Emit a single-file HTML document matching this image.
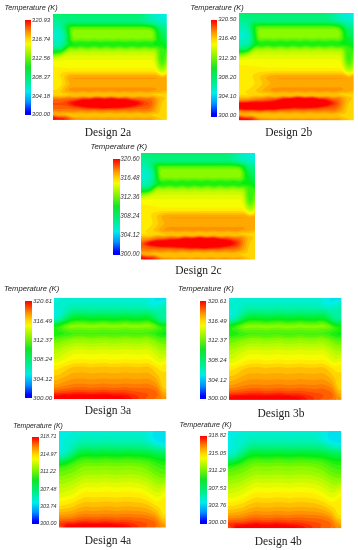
<!DOCTYPE html><html><head><meta charset="utf-8"><title>Temperature contours</title><style>
html,body{margin:0;padding:0;background:#fff;}
body{width:358px;height:550px;position:relative;overflow:hidden;font-family:"Liberation Sans",sans-serif;}
.t{position:absolute;font-style:italic;color:#222;white-space:nowrap;line-height:1;letter-spacing:0}
.l{position:absolute;font-style:italic;color:#333;white-space:nowrap;line-height:1}
.c{position:absolute;font-family:"Liberation Serif",serif;color:#222;white-space:nowrap;line-height:1;font-size:11.5px}
.cb{position:absolute;background:linear-gradient(to bottom,#ff0000 0%,#ff2000 3%,#ff8800 11.5%,#ffd800 20%,#f4fc00 25.5%,#8cf400 37%,#14e428 49.5%,#00ee80 62.5%,#00ecec 75.5%,#0090ff 86.5%,#0000ff 97%,#0000ff 100%)}
svg{position:absolute;display:block}
</style></head><body>
<svg width="0" height="0" style="left:0;top:0"><defs><filter id="sb" x="-5%" y="-5%" width="110%" height="110%"><feGaussianBlur stdDeviation="0.55"/></filter></defs></svg>
<svg style="left:51.4px;top:12.2px" width="117.8" height="109.9" viewBox="-2 -2 117.8 109.9"><g filter="url(#sb)"><g mask="url(#c2a)"><rect x="-2" y="-2" width="117.8" height="109.9" fill="#00bff5"/>
<path fill="#00e1f0" d="M-2,-2 115.8,-2 115.8,107.9 -2,107.9 -2,-2Z"/>
<path fill="#00eee5" d="M-2,-2 115.8,-2 115.8,107.9 -2,107.9 -2,-2Z"/>
<path fill="#00efcf" d="M-2,-2 106.8,-2 106.9,0.5 107.3,1.5 108.3,2.5 110,3.5 111.8,4 115.8,4.2 115.8,107.9 -2,107.9 -2,-2Z"/>
<path fill="#00f0b9" d="M-2,-2 101,-2 101.1,1 101.3,2.5 102.3,4.3 103.7,5.5 105.8,6.5 109.3,7.6 112.3,8 115.8,8.1 115.8,107.9 -2,107.9 -2,25.2 0,25.2 2,26.1 3,26.3 4.5,26.1 5.4,25.6 6,24.8 6.6,22.6 6.5,21.6 6,19.9 5.5,19 4.4,18.1 3.5,17.8 2.5,17.9 0,19.3 -2,19.3 -2,-2Z"/>
<path fill="#00f1a3" d="M-2,-2 97.4,-2 97.4,4 97.5,5 98.3,6 100.1,7 108.8,9.8 111.8,10.3 115.8,10.4 115.8,107.9 -2,107.9 -2,31.4 4.5,31.1 6,30.8 7.4,30.1 8.3,29.1 9.1,27.6 9.8,25.1 10,22.6 9.7,20.1 9,17.6 7.5,15.2 6,13.8 4.5,12.9 3,12.6 0,12.9 -2,12.9 -2,-2Z"/>
<path fill="#00f18d" d="M-2,-2 94.2,-2 94.1,0.5 92.9,5 93.3,6 93.9,6.5 96.2,7.5 103.8,9.7 109.3,12 111.8,12.4 115.8,12.5 115.8,107.9 -2,107.9 -2,33.2 1,33.2 5.5,32.7 7.5,32.2 8.5,31.6 9.9,30.1 10.5,28.6 11.1,25.6 11.3,22.6 11,19.6 10,16.4 8.5,13.7 5.5,9.4 4.5,8.5 3,8.1 2,8.2 0,8.7 -2,8.7 -2,-2Z"/>
<path fill="#00f278" d="M-2,-2 90.7,-2 90.7,0 89.6,2.5 88.2,3.9 85.5,5.5 85.3,6 88.6,7 99.3,9.4 102.3,10.2 104.8,11.3 108.8,13.8 110.3,14.4 112.3,14.6 115.8,14.7 115.8,107.9 -2,107.9 -2,34.4 1.5,34.3 7,33.5 9,32.6 10.2,31.6 11,30.6 11.5,29.6 11.9,28.1 12.3,24.1 12.3,21.6 11.6,17.6 9.6,12.5 9.4,11.5 9.4,10.5 9.7,9.5 10.5,8.5 11.5,7.7 14.2,6 12.8,5.5 6,4.2 3,4 -2,4.1 -2,-2Z"/>
<path fill="#00f164" d="M-2,-2 85.6,-2 85.6,0 84.2,1 81.7,1.4 13,1.4 2.5,0.4 -2,0.3 -2,-2ZM15.4,8.5 21.1,8.3 83.7,8.3 88.7,8.5 97.3,9.7 101.3,10.7 103.3,11.5 105,12.5 106.3,13.6 108.8,16.1 110.3,17.2 112.3,17.7 115.8,17.8 115.8,107.9 -2,107.9 -2,35.4 2.5,35.1 6,34.7 7.5,34.3 9,33.6 10,32.9 11,32 12.1,30.6 12.6,29.6 13,28.1 13.1,22.1 12.7,18.6 11.2,13.6 11,11.5 11.4,10.5 12.5,9.5 14,8.8 15.4,8.5Z"/>
<path fill="#00f050" d="M15.7,9.5 20.6,9.2 88.2,9.3 94.2,9.9 99.8,10.9 102.8,12.1 104.2,13 105.4,14.1 106.9,16.1 109.3,20 111.3,22.4 113.8,24.5 115.8,24.5 115.8,107.9 -2,107.9 -2,36.2 2,36 5.5,35.6 7.5,35.1 9,34.4 10.5,33.4 12,32.1 13.2,30.6 13.7,29.6 13.9,28.6 13.8,22.1 13.4,18.6 12.3,14.1 12.2,12.5 12.4,11.5 13.2,10.5 14.5,9.8 15.7,9.5Z"/>
<path fill="#00ef3b" d="M17.8,10 88.7,10 93.7,10.4 98.8,11.3 101.8,12.4 104.2,14.1 106,16.6 107.9,21.1 109.3,23.1 113.8,27.5 115.8,27.5 115.8,107.9 -2,107.9 -2,36.9 0.5,36.9 4,36.5 6.2,36.1 8,35.6 9.5,34.9 11,33.8 12.8,32.1 14.2,30.6 14.7,29.6 14.9,28.1 14.6,25.6 14.3,20.6 13.9,17.6 13.3,14.6 13.2,13 13.5,11.9 14.5,10.9 16,10.3 17.8,10Z"/>
<path fill="#00ef27" d="M16.3,11 18,10.7 21.1,10.6 89.2,10.7 94.2,11.1 98.8,11.9 101.3,12.8 103.3,14.3 104.3,15.6 105.2,17.1 106.9,22.1 108.3,24.6 113.3,30 113.8,30.4 115.8,30.4 115.8,107.9 -2,107.9 -2,37.5 1,37.5 4.5,37.1 6.5,36.7 8.3,36.1 10,35.2 11.5,34.1 14.3,31.6 15.6,30.1 15.8,29.6 16,28.6 15.3,25.6 15,21.1 14,14.1 14.2,13 14.7,12 15.2,11.5 16.3,11Z"/>
<path fill="#02ee14" d="M17.3,11.5 19.1,11.3 21.6,11.2 89.2,11.3 93.7,11.6 98.3,12.3 100.8,13.3 102.5,14.6 103.7,16.1 104.4,17.6 105.1,19.6 106,23.6 107,26.6 107.7,27.6 113.3,32.2 113.8,32.4 115.8,32.4 115.8,107.9 -2,107.9 -2,38.2 1,38.1 4.5,37.7 7,37.2 8.5,36.7 11,35.1 17,30.1 17.2,29.1 16,25.6 14.9,14.6 15,13.6 15.5,12.5 16.1,12 17.3,11.5Z"/>
<path fill="#1df010" d="M18.5,12 22.1,11.9 89.7,11.9 93.7,12.2 97.8,12.8 99.9,13.6 101.8,14.8 103,16.6 104,19.1 104.7,24.1 104.7,25.6 104.3,26.6 103.8,27.1 99.7,30.1 99.8,30.6 102.8,31 108.3,31.3 109.8,31.8 113.3,34 113.8,34.2 115.8,34.2 115.8,107.9 -2,107.9 -2,38.8 0.5,38.7 3.5,38.4 6,38.1 8,37.5 10.5,36.2 15.5,32.3 17.5,31.3 20.3,30.6 20.4,30.1 18,28 16.9,26.1 16.6,24.6 15.7,15.6 15.8,14.1 16.3,13 17,12.5 18.5,12Z"/>
<path fill="#38f30c" d="M25.8,12.5 88.7,12.6 92.2,12.7 96.3,13.2 98.2,13.6 99.5,14.1 100.8,14.9 101.8,16.1 102.6,17.6 103.2,19.6 103.4,21.6 103.4,24.6 102.9,26.1 101.9,27.1 100.3,28.1 98.3,28.5 91.7,27.9 85.2,28.6 79.2,27.9 72.7,28.6 66.7,27.9 60.2,28.6 53.6,27.9 47.6,28.6 41.1,27.9 35.1,28.6 28.6,27.9 23.1,28.5 20.6,28.3 19.6,27.9 18.5,27.1 17.5,25.5 16.8,20.1 16.5,15.6 16.6,14.6 17.1,13.6 18.5,12.8 20.6,12.6 25.8,12.5ZM25.1,32.1 27.1,31.7 29.1,31.7 33.6,32.4 35.1,32.5 41.1,31.6 47.6,32.5 53.6,31.6 60.2,32.5 65.2,31.7 66.7,31.7 72.7,32.5 79.2,31.7 85.2,32.5 86.7,32.4 90.2,31.7 92.2,31.7 97.3,32.5 101.8,32.3 104.3,32.5 108.8,33.9 112.8,35.9 113.8,36.1 115.8,36.1 115.8,107.9 -2,107.9 -2,39.4 0.5,39.3 3.5,39.1 6,38.6 8,38.1 10.5,36.8 15,33.2 17,32.4 18.5,32.2 22.6,32.5 25.1,32.1Z"/>
<path fill="#53f508" d="M19.2,13.6 22.6,13.3 88.2,13.3 94.7,13.6 97.3,14 98.8,14.5 99.8,15.2 100.8,16.2 101.8,18 102.3,19.6 102.4,21.6 102.3,24.1 101.7,25.6 100.8,26.6 99.3,27.3 97.8,27.5 91.7,26.9 85.2,27.5 79.2,26.9 72.7,27.5 66.2,26.9 60.2,27.5 53.6,26.9 47.6,27.5 41.1,26.9 35.1,27.5 28.6,26.9 23.1,27.5 21.6,27.5 20.1,27 19.1,26.3 18.5,25.6 18,23.9 17.5,20.1 17.4,15.6 17.5,14.9 18,14.1 19.2,13.6ZM27.3,32.6 29.6,32.6 34.6,33.4 41.1,32.6 47.1,33.4 48.6,33.3 53.6,32.6 60.2,33.4 66.2,32.6 72.7,33.4 79.2,32.6 85.2,33.4 91.7,32.6 97.3,33.4 102.8,33.2 104.1,33.6 105,34.1 106.1,35.1 106.7,36.1 107.2,38.1 107.3,42.2 107.8,45.2 108.3,46.5 108.8,47.2 109.3,47.3 109.8,47.1 110.2,46.7 110.7,45.7 112,40.7 112.5,39.6 113.8,38.7 115.8,38.7 115.8,107.9 -2,107.9 -2,40 3,39.7 6,39.2 8,38.7 10.5,37.4 14.5,34.2 16.5,33.2 18,33 22.6,33.4 27.3,32.6Z"/>
<path fill="#6ef704" d="M19.8,14.6 21.6,14.3 27.6,14.3 89.2,14.3 94.2,14.5 97.6,15.1 99.3,16.1 100.3,17.3 100.9,18.6 101.3,20.1 101.3,21.6 100.9,24.1 100.4,25.1 99.3,26.1 97.8,26.4 91.7,25.8 85.2,26.4 79.2,25.8 72.7,26.4 66.2,25.8 60.2,26.4 53.6,25.8 47.6,26.4 41.1,25.8 35.1,26.4 28.6,25.8 22.1,26.4 20.6,26 19.6,25.1 19.1,23.8 18.5,21.6 18.3,19.1 18.5,16.1 19,15.1 19.8,14.6ZM26,33.6 29.1,33.4 33.1,34 35.1,34.2 41.1,33.3 47.6,34.2 53.6,33.3 60.2,34.2 66.7,33.3 72.7,34.2 79.2,33.3 85.2,34.2 91.7,33.3 97.3,34.1 102.3,34.1 103.8,34.7 104.6,35.6 105.1,36.6 105.6,38.6 106.1,44.2 106.8,47.4 107.8,49.5 108.5,50.2 109.3,50.5 110.3,50 111.2,48.7 113,44.2 113.8,42.6 115.8,42.6 115.8,107.9 -2,107.9 -2,40.6 3,40.4 6,39.9 8,39.3 10.5,38.1 14.5,35 16.5,34 18,33.8 22.6,34.2 26,33.6Z"/>
<path fill="#89fa00" d="M21.7,16.1 94.7,16.1 97.3,16.5 98.8,17.5 99.8,19.2 100,21.1 99.8,22.1 99,23.6 98.3,24.2 97.3,24.5 91.7,24.1 85.2,24.6 78.7,24.1 72.7,24.6 66.2,24.1 60.2,24.6 53.6,24.1 47.1,24.6 41.1,24.1 34.6,24.6 28.6,24.1 22.6,24.5 21.6,24.2 20.6,23.3 19.7,21.6 19.4,20.1 19.6,18.3 20.1,17.1 20.6,16.5 21.7,16.1ZM17,34.6 18.5,34.6 22.6,35 28.6,34.2 33.6,34.9 35.1,35 41.1,34.2 47.6,35 53.6,34.2 60.2,35 66.7,34.2 72.7,35 79.2,34.2 85.2,35 91.7,34.2 97.3,34.9 101.3,34.9 102.8,35.4 103.8,36.6 104.5,38.6 105.3,45.2 105.9,48.2 106.8,50.4 107.8,51.9 108.8,52.5 109.3,52.6 110.3,52.2 111.3,51.2 111.8,50.3 113.8,46.2 115.8,46.2 115.8,107.9 -2,107.9 -2,41.3 0.5,41.3 3.5,41 8,39.9 11,38.4 15.5,35.1 17,34.6Z"/>
<path fill="#9ffa00" d="M16.8,35.6 18,35.5 22.6,35.9 28.6,35.2 35.1,35.9 41.1,35.2 47.6,35.9 53.6,35.2 60.2,35.9 66.7,35.2 72.7,35.9 79.2,35.2 85.2,35.9 91.7,35.2 97.3,35.9 100.8,35.9 101.8,36.2 102.8,37.2 103.6,39.1 104.6,46.2 105.4,49.7 106.5,52.2 107.7,53.7 108.8,54.3 109.8,54.3 110.3,54 111.8,52.6 113.8,49.1 115.8,49.1 115.8,107.9 -2,107.9 -2,42.1 2.5,41.9 5,41.5 7.5,40.8 10.5,39.5 15,36.4 16.8,35.6Z"/>
<path fill="#b6fb00" d="M26.6,36.6 29.1,36.5 35.1,37.1 41.6,36.5 47.6,37.1 54.1,36.5 60.2,37.1 66.7,36.5 72.7,37.1 79.2,36.5 85.2,37.1 91.7,36.5 96.8,37.1 100.3,37.2 101.4,37.6 102.2,38.6 102.6,39.6 103.9,47.2 104.8,50.7 105.9,53.2 107.3,55 108.8,55.8 110.3,55.6 111.8,54.4 113.8,51.7 115.8,51.7 115.8,107.9 -2,107.9 -2,42.9 2.5,42.7 7.5,41.6 10,40.6 14.5,37.8 16.5,36.9 18,36.8 22.6,37.1 26.6,36.6Z"/>
<path fill="#ccfb00" d="M15.7,38.6 17.5,38.4 22.6,38.7 28.6,38.2 35.1,38.7 41.1,38.2 47.6,38.7 53.6,38.2 60.2,38.7 66.2,38.2 72.7,38.7 79.2,38.2 85.2,38.7 91.7,38.2 99.3,38.8 100.3,39 100.8,39.3 101.3,39.9 101.8,41.1 103.4,48.7 104.3,51.7 105.3,54.2 106.8,56.1 108.3,56.9 109.8,57 110.8,56.7 111.6,56.2 113.8,53.9 115.8,53.9 115.8,107.9 -2,107.9 -2,43.9 2,43.7 7,42.8 10.5,41.4 14.5,39.1 15.7,38.6Z"/>
<path fill="#e2fb00" d="M13.9,41.7 16.5,41.2 22.1,41.4 28.6,41.2 34.6,41.4 41.1,41.2 47.6,41.4 53.6,41.2 60.2,41.4 66.7,41.2 72.7,41.4 79.2,41.2 85.2,41.4 91.7,41.2 98.3,41.5 99.8,41.9 100.8,43.2 101.3,44.4 102.9,50.7 104,53.7 105.1,55.7 106.3,57 107.8,57.9 108.8,58.2 109.8,58.1 111.3,57.6 113.8,55.8 115.8,55.8 115.8,107.9 -2,107.9 -2,45.1 2,45 6,44.3 9.5,43.3 13.9,41.7Z"/>
<path fill="#f8fc00" d="M9.6,46.2 15.5,46 91.7,46 97.8,46.1 99.3,46.4 100.3,47.5 103.5,55.2 104.7,56.7 106.4,58.2 108.3,59.1 109.8,59.2 111.3,58.7 113.8,57.2 115.8,57.2 115.8,107.9 -2,107.9 -2,47.1 2.5,47 9.6,46.2Z"/>
<path fill="#ffec00" d="M-2,53.2 -2,52.9 2,53 11.5,54 15.5,54.2 98.8,54.2 99.8,54.3 100.8,54.7 105.5,58.7 106.8,59.5 108.3,60.1 109.3,60.2 110.8,59.9 113.8,58.4 115.8,58.4 115.8,107.9 -2,107.9 -2,53.2Z"/>
<path fill="#ffd600" d="M14.5,57.7 19.6,57.6 99.8,57.6 102.3,58 106.8,60.6 108.8,61.1 110.8,60.9 113.8,59.6 115.8,59.6 115.8,107.9 -2,107.9 -2,76.3 0.5,76.3 3,75.6 5.5,74.3 7,73 8.5,70.8 8.9,68.8 8.7,66.8 7.3,62.2 7.2,61.2 7.4,60.2 8.3,59.2 9.5,58.6 11.5,58.1 14.5,57.7Z"/>
<path fill="#ffbf00" d="M16,59.7 20.6,59.5 100.8,59.5 102.8,59.8 107.3,61.8 109.3,62.2 110.8,61.9 113.8,60.8 115.8,60.8 115.8,78.8 113.3,78.9 107.8,79.8 101.3,79.8 97.8,80.3 98.3,80.5 102.8,81 111,83.3 112,83.8 112.2,84.3 112,84.8 109.9,87.3 108.8,89.4 107.8,92.3 106.8,96.9 106.4,97.9 105.8,98.8 104.8,99.5 103.8,99.9 99.8,100.4 98.2,100.9 105.8,103.7 108.8,105.2 109.8,105.9 109.8,107.9 -2,107.9 -2,81.5 8,81.8 11.1,81.3 14.5,80.5 18.1,80.3 10,79.3 8.5,78.7 7.7,77.8 7.8,76.8 11.3,72.3 12.2,70.8 12.6,69.8 12.4,67.8 11.2,63.7 11.5,62.2 12.3,61.2 13,60.7 14.5,60.1 16,59.7ZM20.6,80.8 20.3,80.8 22.5,80.8 20.6,80.8ZM23.1,80.8 22.7,80.8 24.9,80.8 23.1,80.8ZM27.6,80.3 27.3,80.3 32.2,80.3 27.6,80.3ZM70.2,80.3 74.9,80.3 70.2,80.3ZM77.7,80.8 77.3,80.8 79.4,80.8 77.7,80.8ZM80.2,80.8 79.7,80.8 81.9,80.8 80.2,80.8ZM84.2,80.3 84.1,80.3 89.2,80.3 84.2,80.3ZM91.7,80.8 91.4,80.8 96.5,80.8 91.7,80.8Z"/>
<path fill="#ffa900" d="M16.6,61.7 18.5,61.4 21.1,61.3 101.3,61.3 103.8,61.6 107.3,63.1 109.3,63.4 110.8,63.2 113.8,62.1 115.8,62.1 115.8,76.3 112.8,76.4 106.8,77.9 100.8,78.2 93.7,79 86.7,78.3 80.2,79 78.2,78.9 72.2,78.3 65.2,79 58.2,78.3 51.1,79 44.1,78.3 37.1,79 31.1,78.4 29.1,78.3 22.6,79 13,77.8 11.9,77.3 11.6,76.8 11.6,76.3 12.5,74.8 15.6,71.3 16.3,70.3 16.5,69.8 16.4,68.8 14.7,65.2 14.4,63.7 14.5,63.2 15,62.6 16.6,61.7ZM41.8,81.8 44.6,81.6 51.1,82.2 58.7,81.6 65.7,82.3 72.7,81.8 79.7,82.5 86.2,81.9 93.2,82.5 100.3,82.1 102.8,82.6 105.3,83.7 106.2,84.3 106.5,84.8 106.6,85.8 104.3,94.9 103.3,96.9 102.3,97.7 101.3,98.1 93.2,99.7 90.7,99.8 86.2,99.1 84.2,99 78.7,99.8 76.7,99.8 70.2,99 62.7,99.8 57.7,99.1 55.6,99 48.6,99.8 41.6,99 34.6,99.8 27.6,99 20.6,99.8 15,99.2 13,99.2 11.4,99.4 9.6,99.9 9.4,100.4 12,100.6 14,101 18,102.4 21.1,103.1 23.1,103.3 28.1,103.1 34.1,103.8 41.6,103.1 48.6,103.8 55.6,103.1 63.2,103.8 70.2,103.1 77.2,103.8 84.2,103.1 91.2,103.8 97.8,103.3 100.5,103.9 103.4,105.4 104,105.9 104,107.9 -2,107.9 -2,82.5 2,82.5 8,82.8 15.5,81.9 22.1,82.5 24.1,82.4 29.6,81.8 37.1,82.4 41.8,81.8Z"/>
<path fill="#ff9200" d="M20.3,64.2 23.1,64.1 101.3,64.1 103.3,64.2 103.6,64.7 101.3,64.9 22.6,64.9 20.5,64.7 20.3,64.2ZM18.4,73.8 20.1,73.6 29.6,73.4 36.6,73.6 43.6,73.4 51.1,73.6 58.2,73.4 65.2,73.6 72.2,73.4 79.2,73.6 86.2,73.4 93.7,73.6 99.8,73.4 102.3,73.9 103.3,74.5 103.7,75.3 103.4,75.8 102.2,76.3 96.3,77.3 94.2,77.5 86.7,76.8 79.2,77.5 72.2,76.8 65.2,77.5 58.2,76.8 51.1,77.5 44.1,76.8 36.6,77.5 29.6,76.8 22.6,77.5 18,76.9 16,76.3 15.7,75.8 16,75.1 17,74.3 18.4,73.8ZM42.9,82.3 45.1,82.3 51.1,82.8 58.7,82.2 65.7,82.9 72.7,82.5 79.7,83.2 86.2,82.7 93.2,83.3 99.8,83 101.3,83.3 102.3,83.7 103.5,84.8 103.8,85.8 103.7,88.8 103.3,90.8 102.3,93.8 101.8,94.9 101,95.9 99.8,96.7 98.1,97.4 95.3,98.1 92.7,98.5 90.2,98.5 86.2,98 84.2,97.8 77.2,98.6 70.2,97.9 63.2,98.6 56.1,97.9 48.6,98.6 42.1,97.9 40.1,97.9 34.6,98.6 27.6,97.8 20.6,98.6 13.5,97.9 6,98.6 0.5,98 -2,98 -2,83.3 8,83.5 15.5,82.7 23.1,83.2 30.1,82.5 37.1,83 42.9,82.3ZM-2,100.9 -2,100.5 0,100.5 6,101.6 12.5,101.6 14.5,102 19.1,103.6 22.1,104.3 34.1,105.3 41.6,104.7 48.6,105.3 55.6,104.7 63.2,105.3 70.2,104.7 77.2,105.3 84.2,104.7 91.2,105.3 97.3,105 98.8,105.3 99.9,105.9 99.9,107.9 -2,107.9 -2,100.9Z"/>
<path fill="#ff7a00" d="M42.8,82.8 45.1,82.8 51.1,83.3 58.2,82.7 65.2,83.4 72.2,83 79.7,83.9 86.7,83.5 92.7,84.1 98.8,84.1 100.3,84.5 101.1,85.3 101.4,86.8 101.5,89.3 101.2,90.8 100.6,92.3 99.9,93.9 99.1,94.9 97.8,95.8 96.5,96.4 92.7,97.1 90.7,97.1 84.2,96.6 77.2,97.2 70.2,96.7 63.2,97.3 56.1,96.8 48.6,97.3 41.6,96.7 34.6,97.2 27.6,96.6 20.1,97.2 13,96.6 6,97.2 0.5,96.6 -2,96.6 -2,84.3 7.5,84.4 15.5,83.5 22.6,84 30.1,83.1 37.1,83.5 42.8,82.8ZM-2,101.4 -2,101.1 0,101.1 6,102.2 11.5,102.2 14,102.5 22.8,105.9 22.8,107.9 -2,107.9 -2,101.4Z"/>
<path fill="#ff6000" d="M42.1,83.3 45.1,83.2 51.1,83.7 58.2,83.1 65.7,83.9 72.2,83.6 79.2,84.5 86.2,84.5 92.2,85.3 96.3,85.4 97.8,85.8 98.3,86.3 99.1,88.3 99.2,89.8 98.4,91.8 96.8,93.8 95.3,94.6 92.7,95.1 84.7,94.9 77.7,95.5 70.2,95.6 63.2,96.1 56.1,95.9 49.1,96.2 41.6,95.8 34.6,95.9 27.6,95.3 20.6,95.2 14,94.7 6,95.1 -2,94.7 -2,85.8 7.5,85.6 15,84.7 23.1,84.6 29.6,83.7 36.6,83.9 42.1,83.3ZM-2,101.9 -2,101.7 0,101.7 6,102.7 11.5,102.7 13.5,103.1 16.9,104.4 19.5,105.9 19.5,107.9 -2,107.9 -2,101.9Z"/>
<path fill="#ff4600" d="M41.5,83.8 44.6,83.6 51.1,84.1 58.7,83.6 65.2,84.3 72.7,84.1 79.2,85.1 85.2,85.5 88.7,86.2 93.6,87.8 95.3,88.8 95.7,89.8 95.6,90.3 94.7,91.1 92.7,91.8 88.7,92.7 78.7,94.2 63.2,95.3 55.6,95.2 49.6,95.5 42.1,95.1 33.6,94.9 20.6,93.5 8,90.9 -2,90.7 -2,89.1 7.5,89.1 9,88.6 14,86.7 17,85.9 23.1,85.3 29.6,84.3 36.6,84.4 41.5,83.8ZM-2,102.4 -2,102.2 0,102.2 5.5,103.2 11.5,103.4 13.5,103.8 15.9,104.9 17.2,105.9 17.2,107.9 -2,107.9 -2,102.4Z"/>
<path fill="#ff2c00" d="M40.9,84.3 44.6,84 51.6,84.4 58.2,84 65.2,84.7 72.7,84.6 86.2,86.7 89.1,87.8 90.4,88.8 90.7,89.3 90.6,89.8 90.2,90.3 88,91.3 83.7,92.4 77.7,93.5 63.2,94.7 55.6,94.6 49.1,94.9 42.1,94.5 34.6,94.3 22.6,92.8 19.1,92.1 16,91.1 14.6,90.3 14.1,89.8 14,89.3 14.2,88.8 15.5,87.8 17,87.2 19.1,86.7 29.6,84.8 36.6,84.8 40.9,84.3ZM-2,102.9 -2,102.7 0.5,102.8 5.5,103.7 10.5,104 12.5,104.4 13.8,104.9 15,105.9 15,107.9 -2,107.9 -2,102.9Z"/>
<path fill="#ff1100" d="M40.6,84.8 44.6,84.5 51.6,84.9 58.2,84.4 65.2,85.1 72.7,85.2 84.4,87.3 86.7,88.3 87.2,88.8 87.4,89.3 87.2,89.8 86.6,90.3 84.2,91.3 80.1,92.3 76.7,92.9 63.2,94.1 55.6,94.1 49.1,94.3 34.6,93.6 24.8,92.3 21.6,91.7 18.9,90.8 17.5,89.9 17.3,89.3 17.5,88.8 18,88.4 19.2,87.8 28.1,85.7 31.1,85.3 37.1,85.3 40.6,84.8ZM-2,103.9 -2,103.4 0,103.4 4.5,104.2 10.5,105 11.6,105.4 12.2,105.9 12.2,107.9 -2,107.9 -2,103.9Z"/>
<path fill="#ff0000" d="M40.9,85.3 44.6,85 51.6,85.4 58.2,84.9 65.2,85.7 72.2,85.7 75.7,86.3 82.2,87.8 83.4,88.3 84.1,88.8 84.3,89.3 83.7,90.1 82.3,90.8 78.7,91.8 75.4,92.3 63.2,93.4 49.6,93.7 35.6,93 29.8,92.3 25.1,91.6 22.3,90.8 21.2,90.3 20.6,89.8 20.5,89.3 21.1,88.6 22.7,87.8 28.2,86.3 31.1,85.9 37.6,85.8 40.9,85.3ZM-2,105.4 -2,104.9 0,104.9 5.6,105.9 5.6,107.9 -2,107.9 -2,105.4Z"/></g></g><mask id="c2a" maskUnits="userSpaceOnUse" x="-2" y="-2" width="200" height="200"><rect width="113.8" height="105.9" fill="#fff"/></mask></svg>
<div class="t" style="left:4.4px;top:3.97822px;font-size:7.35px">Temperature (K)</div>
<div class="cb" style="left:24.5px;top:20.3px;width:6.3px;height:94.3px"></div>
<div class="l" style="left:31.8px;top:16.7px;font-size:6px">320.93</div>
<div class="l" style="left:31.8px;top:35.5px;font-size:6px">316.74</div>
<div class="l" style="left:31.8px;top:54.8px;font-size:6px">312.56</div>
<div class="l" style="left:31.8px;top:73.8px;font-size:6px">308.37</div>
<div class="l" style="left:31.8px;top:92.6px;font-size:6px">304.18</div>
<div class="l" style="left:31.8px;top:111.2px;font-size:6px">300.00</div>
<div class="c" style="left:84.8px;top:126.953px">Design 2a</div>
<svg style="left:236.8px;top:11.2px" width="118.7" height="111.2" viewBox="-2 -2 118.7 111.2"><g filter="url(#sb)"><g mask="url(#c2b)"><rect x="-2" y="-2" width="118.7" height="111.2" fill="#00bff5"/>
<path fill="#00e1f0" d="M-2,-2 116.7,-2 116.7,109.2 -2,109.2 -2,-2Z"/>
<path fill="#00eee5" d="M-2,-2 116.7,-2 116.7,109.2 -2,109.2 -2,-2Z"/>
<path fill="#00efcf" d="M-2,-2 107.6,-2 107.7,0.5 108.2,1.5 109.1,2.6 110.9,3.6 112.7,4.1 116.7,4.2 116.7,109.2 -2,109.2 -2,-2Z"/>
<path fill="#00f0b9" d="M-2,-2 101.8,-2 101.9,1 102.1,2.5 103.1,4.4 104.5,5.6 106.6,6.6 110.2,7.7 113.2,8.1 116.7,8.2 116.7,109.2 -2,109.2 -2,25.5 -0,25.5 2,26.4 3,26.6 4.5,26.5 5.4,25.9 6.1,25.1 6.6,22.9 6.6,21.8 6.1,20.1 5.6,19.3 4.4,18.3 3.5,18.1 2.5,18.2 -0,19.5 -2,19.5 -2,-2Z"/>
<path fill="#00f1a3" d="M-2,-2 98.2,-2 98.1,4.1 98.3,5.1 99,6.1 100.9,7.1 109.6,9.9 112.7,10.4 116.7,10.5 116.7,109.2 -2,109.2 -2,31.7 4.5,31.5 6.1,31.2 7.4,30.5 8.4,29.5 9.2,27.9 9.8,25.4 10.1,22.9 9.8,20.3 9,17.8 7.6,15.4 6.1,14 4.5,13.1 3,12.7 -0,13.1 -2,13.1 -2,-2Z"/>
<path fill="#00f18d" d="M-2,-2 94.9,-2 94.8,0.5 93.7,5.1 93.7,5.6 94,6.1 94.6,6.6 97,7.6 104.6,9.8 110.2,12.1 112.7,12.5 116.7,12.6 116.7,109.2 -2,109.2 -2,33.7 1,33.6 5.6,33.1 7.6,32.5 8.6,32 9.9,30.5 10.6,29 11.2,25.9 11.4,22.9 11.1,19.8 10.1,16.6 8.6,13.8 5.6,9.5 4.5,8.6 3,8.2 2,8.3 -0,8.8 -2,8.8 -2,-2Z"/>
<path fill="#00f278" d="M-2,-2 91.4,-2 91.4,0 90.3,2.5 88.9,4 86.2,5.6 85.9,6.1 89.3,7.1 100,9.5 103.1,10.3 105.6,11.4 109.6,14 111.2,14.6 113.2,14.8 116.7,14.9 116.7,109.2 -2,109.2 -2,34.9 1.5,34.7 7.1,34 9.1,33 10.3,32 11.1,30.9 11.6,29.9 12,28.5 12.4,24.4 12.4,21.8 11.7,17.8 9.7,12.7 9.5,11.7 9.4,10.7 9.8,9.7 10.6,8.7 11.6,7.8 14.3,6.1 12.9,5.6 6.1,4.3 3,4 -2,4.1 -2,-2Z"/>
<path fill="#00f164" d="M-2,-2 86.3,-2 86.3,0 84.9,1 82.4,1.4 13.1,1.4 2.5,0.4 -2,0.4 -2,-2ZM15.5,8.6 21.2,8.4 84.4,8.4 89.4,8.6 98,9.8 102.1,10.8 104.1,11.7 105.8,12.7 107.1,13.7 109.6,16.3 111.2,17.4 113.2,17.9 116.7,18 116.7,109.2 -2,109.2 -2,35.8 2.5,35.6 6.1,35.1 7.6,34.7 9.1,34 10.1,33.4 11.1,32.4 12.2,31 12.7,30 13.1,28.5 13.2,22.4 12.8,18.8 11.3,13.7 11.1,11.7 11.5,10.7 12.6,9.7 14.1,8.9 15.5,8.6Z"/>
<path fill="#00f050" d="M15.8,9.7 20.7,9.3 88.9,9.4 95,10 100.6,11.1 103.6,12.3 105,13.2 106.2,14.2 107.8,16.3 110.2,20.3 112.2,22.6 114.7,24.8 116.7,24.8 116.7,109.2 -2,109.2 -2,36.6 2,36.4 5.6,36 7.6,35.5 9.1,34.9 10.6,33.8 12.1,32.5 13.3,31 13.8,30 14,29 13.9,22.4 13.5,18.8 12.4,14.2 12.3,12.7 12.5,11.7 13.3,10.7 14.7,10 15.8,9.7Z"/>
<path fill="#00ef3b" d="M18,10.2 89.4,10.1 94.5,10.6 99.5,11.4 102.6,12.5 105,14.2 105.9,15.2 106.8,16.8 108.8,21.3 110.2,23.4 114.7,27.8 116.7,27.8 116.7,109.2 -2,109.2 -2,37.3 0.5,37.3 4,36.9 6.3,36.6 8.1,36 9.6,35.3 11.1,34.2 13,32.5 14.3,31 14.8,30 15,28.5 14.7,25.9 14.5,20.8 14,17.8 13.4,14.7 13.3,13.2 13.6,12.1 14.7,11 16.2,10.4 18,10.2Z"/>
<path fill="#00ef27" d="M16.4,11.2 18.2,10.8 21.2,10.7 89.9,10.8 95,11.2 99.5,12 102.1,13 104.1,14.4 105.2,15.7 106,17.3 107.7,22.4 109.1,24.9 114.2,30.4 114.7,30.7 116.7,30.7 116.7,109.2 -2,109.2 -2,38 1,37.9 4.5,37.5 6.6,37.2 8.4,36.6 10.1,35.6 11.6,34.5 14.4,32 15.7,30.5 16,30 16.1,29 15.4,25.9 15.2,21.3 14.1,14.2 14.3,13.2 14.8,12.2 15.4,11.7 16.4,11.2Z"/>
<path fill="#02ee14" d="M17.4,11.7 19.2,11.4 21.7,11.4 89.9,11.4 94.5,11.7 99,12.5 101.6,13.4 103.3,14.7 104.5,16.3 105.3,17.8 105.9,19.8 106.8,23.9 107.9,26.9 108.5,27.9 114.2,32.6 114.7,32.8 116.7,32.8 116.7,109.2 -2,109.2 -2,38.6 1,38.6 4.5,38.2 7.1,37.7 8.6,37.1 11.1,35.6 17.1,30.5 17.4,29.5 16.1,25.9 15,14.7 15.1,13.7 15.6,12.7 16.2,12.2 17.4,11.7Z"/>
<path fill="#1df010" d="M18.6,12.2 22.2,12 90.4,12.1 94.5,12.3 98.5,13 100.7,13.7 102.6,15 103.8,16.8 104.8,19.3 105.5,24.4 105.5,25.9 105.1,26.9 104.6,27.4 100.5,30.5 100.6,31 103.6,31.4 109.1,31.7 110.7,32.2 114.2,34.4 114.7,34.6 116.7,34.6 116.7,109.2 -2,109.2 -2,39.2 0.5,39.2 3.5,38.9 6.1,38.5 8.1,38 10.6,36.6 15.7,32.7 17.7,31.7 20.4,31 20.5,30.5 18.2,28.3 17.1,26.4 16.7,24.9 15.8,15.7 15.9,14.2 16.4,13.2 17.2,12.6 18.6,12.2Z"/>
<path fill="#38f30c" d="M26,12.7 89.4,12.7 93,12.8 97,13.3 98.9,13.7 100.2,14.2 101.6,15.1 102.6,16.3 103.4,17.8 104,19.8 104.2,21.8 104.2,24.9 103.7,26.4 102.7,27.4 101.1,28.4 99,28.9 97.5,28.8 92.5,28.2 85.9,28.9 79.8,28.2 73.3,28.9 67.2,28.2 60.6,28.9 54.1,28.2 48,28.9 41.4,28.2 35.4,28.9 28.8,28.2 23.2,28.9 20.7,28.7 19.7,28.2 18.7,27.5 17.7,25.8 16.9,20.3 16.6,15.7 16.7,14.7 17.3,13.7 18.7,13 20.7,12.7 26,12.7ZM25.3,32.5 27.3,32.1 29.3,32.1 33.9,32.8 35.4,32.9 41.4,32 48,32.9 54.1,32 60.6,32.9 65.7,32.1 67.2,32 73.3,32.9 79.8,32 85.9,32.9 87.4,32.8 91,32.1 93,32.1 98,32.9 102.6,32.6 105.1,32.9 109.6,34.3 113.7,36.3 114.7,36.5 116.7,36.5 116.7,109.2 -2,109.2 -2,39.8 0.5,39.8 3.5,39.5 6.1,39.1 8.1,38.5 10.6,37.2 15.2,33.7 17.2,32.8 18.7,32.6 22.7,32.9 25.3,32.5Z"/>
<path fill="#53f508" d="M19.4,13.7 22.7,13.5 88.9,13.5 95.5,13.8 98,14.2 99.5,14.7 100.6,15.3 101.6,16.4 102.6,18.2 103.1,19.8 103.2,21.8 103.1,24.4 102.5,25.9 101.6,26.9 100,27.6 98.5,27.8 92.5,27.2 85.9,27.9 79.8,27.2 73.3,27.9 66.7,27.2 60.6,27.9 54.1,27.2 48,27.9 41.4,27.2 35.4,27.9 28.8,27.2 23.2,27.8 21.7,27.8 20.2,27.4 19.2,26.6 18.7,25.9 18.2,24.2 17.6,20.3 17.5,15.7 17.7,15.1 18.2,14.3 19.4,13.7ZM27.5,33 29.8,33 34.9,33.8 41.4,33 47.5,33.8 49,33.7 54.1,33 60.6,33.8 66.7,33 73.3,33.8 79.8,33 85.9,33.8 92.5,33 98,33.8 103.6,33.6 104.9,34 105.8,34.5 106.9,35.6 107.5,36.6 108,38.6 108.2,42.7 108.6,45.7 109.1,47.1 109.6,47.7 110.2,47.9 110.7,47.7 111.1,47.2 111.6,46.2 112.9,41.2 113.4,40.1 113.9,39.6 114.7,39.2 116.7,39.2 116.7,109.2 -2,109.2 -2,40.5 3,40.2 6.1,39.7 8.1,39.1 10.6,37.9 14.7,34.7 16.7,33.6 18.2,33.4 22.7,33.8 27.5,33Z"/>
<path fill="#6ef704" d="M20,14.7 21.7,14.5 27.8,14.4 89.9,14.5 95,14.6 98.4,15.2 100.1,16.3 101.1,17.5 101.7,18.8 102.1,20.3 102.1,21.8 101.7,24.4 101.2,25.4 100,26.4 98.5,26.7 92.5,26.1 85.9,26.7 79.8,26.1 73.3,26.7 66.7,26.1 60.6,26.7 54.1,26.1 48,26.7 41.4,26.1 35.4,26.7 28.8,26.1 22.2,26.7 20.7,26.3 19.7,25.4 19.2,24.1 18.7,21.8 18.4,19.3 18.6,16.3 19.1,15.2 20,14.7ZM26.2,34 29.3,33.8 33.3,34.5 35.4,34.6 41.4,33.8 48,34.6 54.1,33.8 60.6,34.6 65.7,33.8 67.2,33.8 73.3,34.6 79.8,33.8 85.9,34.6 92.5,33.8 98,34.6 103.1,34.5 104.6,35.2 105.4,36.1 105.9,37.1 106.4,39.1 107,44.7 107.6,47.9 108.6,50.1 109.4,50.8 110.2,51.1 111.2,50.6 112.1,49.3 113.9,44.7 114.7,43.2 116.7,43.2 116.7,109.2 -2,109.2 -2,41.1 3,40.9 6.1,40.3 8.1,39.8 10.6,38.5 14.7,35.4 16.7,34.4 18.2,34.2 22.7,34.6 26.2,34Z"/>
<path fill="#89fa00" d="M21.9,16.3 95.5,16.3 98,16.7 99.5,17.7 100.6,19.5 100.8,21.3 100.5,22.4 99.8,23.9 99,24.5 98,24.8 92.5,24.4 85.9,24.9 79.3,24.4 73.3,24.9 66.7,24.4 60.6,24.9 54.1,24.4 47.5,24.9 41.4,24.4 34.9,24.9 28.8,24.4 22.7,24.8 21.7,24.5 20.7,23.6 19.9,21.8 19.5,20.3 19.7,18.5 20.2,17.3 20.7,16.7 21.9,16.3ZM17.1,35.1 18.7,35 22.7,35.4 28.8,34.6 33.9,35.3 35.4,35.4 41.4,34.6 48,35.4 54.1,34.6 60.6,35.4 67.2,34.6 73.3,35.4 79.8,34.6 85.9,35.4 92.5,34.6 98,35.4 102.1,35.3 103.6,35.8 104.6,37.1 105.3,39.1 106.1,45.7 106.8,48.8 107.6,51 108.6,52.5 109.6,53.1 110.2,53.2 111.2,52.9 112.2,51.8 112.7,51 114.7,46.7 116.7,46.7 116.7,109.2 -2,109.2 -2,41.8 0.5,41.8 3.5,41.5 6.1,41 8.1,40.4 11.1,38.9 15.7,35.6 17.1,35.1Z"/>
<path fill="#9ffa00" d="M16.9,36.1 18.2,36 22.7,36.3 28.8,35.6 35.4,36.4 41.4,35.6 48,36.4 54.1,35.6 60.6,36.4 67.2,35.6 73.3,36.4 79.8,35.6 85.9,36.4 92.5,35.6 98,36.3 101.6,36.3 102.6,36.6 103.6,37.6 104.4,39.6 105.4,46.7 106.3,50.3 107.4,52.8 108.6,54.4 109.6,54.9 110.7,54.9 111.2,54.7 112.7,53.2 114.7,49.7 116.7,49.7 116.7,109.2 -2,109.2 -2,42.5 3,42.3 7.6,41.3 10.6,39.9 15.2,36.8 16.9,36.1Z"/>
<path fill="#b6fb00" d="M26.8,37.1 29.3,37 35.4,37.6 41.9,37 48,37.6 54.6,37 60.6,37.6 67.2,37 73.3,37.6 79.8,37 85.9,37.6 92.5,37 97.5,37.5 101.1,37.6 102.2,38.1 103,39.1 103.4,40.1 104.8,47.8 105.7,51.3 106.8,53.9 108.1,55.7 109.6,56.5 111.2,56.3 112.7,55.1 114.7,52.3 116.7,52.3 116.7,109.2 -2,109.2 -2,43.3 3,43.1 7.6,42.1 10.1,41.1 14.7,38.2 16.7,37.4 18.2,37.2 22.7,37.6 26.8,37.1Z"/>
<path fill="#ccfb00" d="M15.8,39.1 17.7,38.9 22.7,39.2 28.8,38.7 35.4,39.2 41.4,38.7 48,39.2 54.1,38.7 60.6,39.2 66.7,38.7 73.3,39.2 79.8,38.7 85.9,39.2 92.5,38.7 100,39.3 101.1,39.5 101.6,39.8 102.1,40.4 102.6,41.6 104.2,49.3 105.1,52.3 106.2,54.9 107.6,56.8 109.1,57.6 110.7,57.7 111.7,57.4 112.4,56.9 114.7,54.6 116.7,54.6 116.7,109.2 -2,109.2 -2,44.3 3,44 7.6,43.1 10.6,41.9 14.6,39.6 15.8,39.1Z"/>
<path fill="#e2fb00" d="M14,42.2 16.7,41.7 22.2,41.9 28.8,41.7 34.9,41.9 41.4,41.7 48,41.9 54.1,41.7 60.6,41.9 67.2,41.7 73.3,41.9 79.8,41.7 85.9,41.9 92.5,41.7 99,42 100.6,42.4 101.6,43.7 102.1,44.9 103.7,51.3 104.8,54.4 105.9,56.4 107.1,57.7 108.6,58.6 109.6,58.9 110.7,58.9 112.2,58.3 114.7,56.5 116.7,56.5 116.7,109.2 -2,109.2 -2,45.4 2,45.3 6.6,44.6 9.6,43.8 14,42.2Z"/>
<path fill="#f8fc00" d="M9,46.2 13.1,46.1 23.7,46.6 93.5,46.6 98.5,46.6 100,47 101.1,48.1 104.3,55.9 105.5,57.4 107.2,58.9 109.1,59.8 110.7,59.9 112.2,59.4 114.7,57.9 116.7,57.9 116.7,109.2 -2,109.2 -2,47 2.5,46.9 9,46.2Z"/>
<path fill="#ffec00" d="M-2,52.3 -2,52 6.1,52.2 23.2,54.3 31.3,54.8 99.5,54.9 100.6,55 101.6,55.4 106.3,59.4 107.6,60.3 109.1,60.8 110.2,60.9 111.7,60.7 114.7,59.2 116.7,59.2 116.7,109.2 -2,109.2 -2,52.3Z"/>
<path fill="#ffd600" d="M29.6,58.4 36.9,58.3 100.6,58.3 103.1,58.7 107.6,61.3 109.6,61.9 111.7,61.7 114.7,60.4 116.7,60.4 116.7,109.2 -2,109.2 -2,81.6 2,81.6 7.1,81.9 8,81.8 9,81.3 6.8,79.8 6.4,79.3 6.4,78.7 7.4,77.7 10.1,76 12.5,74.2 14.1,72.7 15.2,71.1 15.6,70.1 15.4,68.6 13.8,64.5 13.6,63.5 14,62 15,61 17.2,60 20.2,59.3 24.3,58.8 29.6,58.4Z"/>
<path fill="#ffbf00" d="M31.8,60.5 37.9,60.2 101.6,60.2 103.6,60.5 108.1,62.6 110.2,62.9 111.7,62.7 114.7,61.5 116.7,61.5 116.7,79.8 114.2,79.9 108.6,80.8 102.1,80.8 98.6,81.3 99,81.5 103.6,82 111.8,84.3 112.9,84.8 113.1,85.4 112.8,85.9 110.8,88.4 109.6,90.5 108.6,93.5 107.6,98.1 107.2,99.1 106.6,100 105.6,100.7 104.6,101.1 100.6,101.6 99,102.1 106.6,105 109.6,106.5 110.7,107.2 110.7,109.2 -2,109.2 -2,83.5 2,83.5 6.6,83.8 8.6,83.8 15.7,82.6 22.7,82.8 29.3,81.6 33.2,81.3 30.3,80.7 24.3,80.6 21.7,80.2 18.2,78.7 17,77.7 17,77.2 17.6,76.2 21.9,72.7 22.8,71.6 23.2,70.6 23,69.1 20.9,65 21,64 21.4,63.5 22.7,62.5 25.3,61.5 28.3,60.9 31.8,60.5ZM34.9,81.8 34.5,81.8 36.7,81.8 34.9,81.8ZM38.4,81.8 38.2,81.8 38.6,81.8 38.4,81.8ZM85.4,81.3 85.1,81.3 89.8,81.3 85.4,81.3ZM92.5,81.8 92.2,81.8 97.3,81.8 92.5,81.8Z"/>
<path fill="#ffa900" d="M32.3,62.5 38.4,62.1 102.1,62.1 104.6,62.4 108.1,63.8 110.2,64.2 111.7,64 114.7,62.8 116.7,62.8 116.7,77.3 113.7,77.4 107.6,78.9 101.6,79.1 94.5,79.9 87.4,79.3 80.3,79.9 72.8,79.3 66.2,79.9 58.6,79.3 51,79.9 44.5,79.3 36.9,79.9 30.3,79 25.8,78.6 24.2,78.2 23.6,77.7 23.5,77.2 24.2,76.2 26.3,74.5 30.5,71.6 31.3,70.6 31,69.6 27.7,66 27.2,65 27.4,64.5 27.8,64 28.8,63.4 32.3,62.5ZM57.5,82.3 59.6,82.3 65.7,82.9 73.3,82.4 80.3,83.2 87.4,82.8 94,83.5 99.5,83.1 101.6,83.2 104.1,83.7 106.4,84.8 107.3,85.9 107.5,86.9 105.1,96 104.1,98.1 103.1,98.9 102.1,99.3 94,100.9 91.5,101 86.9,100.3 84.9,100.2 79.3,101 77.3,101.1 70.7,100.2 68.7,100.4 65.2,101 63.2,101.1 58.1,100.3 56.1,100.2 49,101.1 41.9,100.2 34.9,101.1 27.8,100.2 20.7,101.1 15.2,100.5 13.1,100.4 11.6,100.6 9.7,101.1 9.4,101.6 12.1,101.8 14.1,102.2 18.2,103.7 21.2,104.4 23.2,104.6 28.3,104.4 34.4,105.1 41.9,104.4 49,105.1 56.1,104.4 63.7,105.1 70.7,104.4 77.8,105.1 84.9,104.4 92,105.1 98.5,104.6 101.3,105.2 104.2,106.7 104.8,107.2 104.8,109.2 -2,109.2 -2,84.7 8.1,85 15.7,83.7 22.7,83.8 29.3,82.9 31.3,82.9 35.4,83.4 37.4,83.5 44,82.6 51.5,83 57.5,82.3Z"/>
<path fill="#ff9200" d="M38.1,65 40.9,64.9 102.1,64.9 104.2,65 104.4,65.5 102.1,65.7 40.4,65.7 38.3,65.5 38.1,65ZM36.4,74.7 44,74.3 51.5,74.5 58.6,74.3 65.7,74.5 72.8,74.3 79.8,74.5 86.9,74.3 94.5,74.5 100.6,74.3 103.1,74.8 104.1,75.4 104.5,76.2 104.2,76.7 103,77.2 97,78.2 94.5,78.4 87.4,77.8 80.3,78.4 72.8,77.8 66.2,78.4 58.6,77.8 52,78.4 44.5,77.8 36.9,78.4 35.2,78.2 33.1,77.7 31.9,77.2 31.4,76.7 31.6,76.2 32.4,75.7 33.9,75.2 36.4,74.7ZM57.9,82.8 60.1,82.8 65.7,83.4 73.3,82.9 79.8,83.8 87.4,83.5 94,84.3 99,84 101.1,84.1 103.3,84.8 104.4,85.9 104.7,87.4 104.3,90.9 102.9,95.5 102.3,96.5 101.6,97.3 100.3,98.1 98.5,98.7 95.5,99.4 93,99.8 91,99.7 86.9,99.2 84.9,99 77.8,99.8 71.2,99.1 69.2,99.1 63.7,99.8 56.1,99.1 49.5,99.8 41.9,99.1 35.4,99.9 27.8,99.2 20.7,100 13.6,99.3 6.1,99.9 0.5,99.3 -2,99.3 -2,86.1 8.1,86.1 15.7,84.7 22.7,84.7 29.3,83.7 36.9,84.2 44,83.3 51.5,83.6 57.9,82.8ZM-2,102.1 -2,101.7 -0,101.7 6.1,102.8 12.6,102.9 14.7,103.3 19.2,104.9 22.2,105.6 34.4,106.6 41.9,106 49,106.6 56.1,106 63.7,106.6 70.7,106 77.8,106.6 84.9,106 92,106.6 98,106.3 99.5,106.6 100.7,107.2 100.7,109.2 -2,109.2 -2,102.1Z"/>
<path fill="#ff7a00" d="M57,83.3 59.6,83.2 66.2,83.8 73.3,83.4 79.8,84.3 86.9,84.1 94,85.1 99.5,85.1 101.1,85.6 101.9,86.4 102.3,88.4 102.3,90.9 101.9,92.5 101.1,94.3 100.3,95.5 99.5,96.3 98.4,97 97,97.6 93.5,98.3 91.5,98.3 84.9,97.8 78.3,98.4 70.7,97.9 63.2,98.5 56.1,97.9 49,98.5 41.9,98.2 34.9,98.9 27.3,98.5 20.7,99.1 13.1,98.5 6.1,98.9 0.5,98.3 -2,98.2 -2,87.3 8.6,87.1 16.2,85.9 22.7,85.6 29.3,84.6 36.9,84.8 44,83.8 51.5,84 57,83.3ZM-2,102.6 -2,102.4 -0,102.4 6.1,103.4 11.6,103.4 14.1,103.8 23,107.2 23,109.2 -2,109.2 -2,102.6Z"/>
<path fill="#ff6000" d="M56.1,83.8 59.6,83.6 66.2,84.2 73.3,83.8 80.3,84.7 87.4,84.7 93.5,85.9 97.5,86.3 98.9,86.9 99.5,87.6 100.2,89.4 100.2,90.9 99.3,93 97.5,95 96,95.8 93.5,96.3 85.9,96.2 78.3,97 70.7,96.9 64.2,97.3 55.6,96.9 49,97.4 41.9,97.4 34.9,98.2 27.8,97.9 20.7,98.4 13.6,97.9 6.1,98.1 0.5,97.5 -2,97.5 -2,88.1 8.6,87.8 15.7,87 23.2,86.6 29.8,85.6 36.9,85.5 44,84.3 51.5,84.4 56.1,83.8ZM-2,103.1 -2,102.9 -0,102.9 6.1,104 11.6,104 13.6,104.3 17,105.7 19.7,107.2 19.7,109.2 -2,109.2 -2,103.1Z"/>
<path fill="#ff4600" d="M55.2,84.3 59.1,84 66.2,84.5 72.8,84.1 79.8,85.1 87.4,85.3 90.4,86 96.5,87.9 97.8,88.9 98.1,89.4 98.2,90.4 97.9,91.5 97,92.4 96,93 94.5,93.6 89.4,94.6 77.8,96 70.7,96.1 63.7,96.5 55.1,96.2 48.5,96.7 41.9,96.8 34.9,97.6 27.8,97.3 20.7,97.9 13.6,97.3 6.1,97.6 0.5,96.9 -2,96.9 -2,88.7 8.1,88.4 15.7,87.7 24.8,87.4 36.9,86.1 44,84.7 51,84.8 55.2,84.3ZM-2,103.6 -2,103.4 -0,103.4 5.6,104.4 11.6,104.6 13.6,105 16.1,106.2 17.4,107.2 17.4,109.2 -2,109.2 -2,103.6Z"/>
<path fill="#ff2c00" d="M58.4,84.3 65.7,84.9 73.3,84.5 79.8,85.5 86.9,85.9 90.7,86.9 94.2,88.4 95.5,89.4 95.8,90.4 95.1,91.5 94.3,92 91,93.1 81.9,94.7 76.8,95.3 63.7,95.9 55.1,95.6 48.5,96.1 41.9,96.3 34.9,97.1 27.8,96.9 20.7,97.4 13.6,96.9 6.1,97 0.5,96.4 -2,96.4 -2,89.2 8.1,88.9 16.2,88.2 22.7,88.2 27.3,88 35.9,86.9 44,85.2 51.5,85.2 58.4,84.3ZM-2,104.2 -2,104 0.5,104.1 5.6,105 10.6,105.2 12.6,105.6 13.9,106.2 15.1,107.2 15.1,109.2 -2,109.2 -2,104.2Z"/>
<path fill="#ff1100" d="M57.1,84.8 59.6,84.8 66.2,85.3 72.8,84.9 79.8,86 85.9,86.4 88.4,87 91.7,88.4 92.9,89.4 93.1,89.9 93.1,90.4 92.8,90.9 92,91.5 88.4,92.8 81.4,94.1 76.3,94.7 64.2,95.3 54.6,95.1 41.9,95.7 34.9,96.5 27.8,96.4 20.7,96.9 13.6,96.4 6.2,96.5 0.5,95.9 -2,95.8 -2,89.7 8.6,89.4 15.7,88.8 23.7,88.8 30,88.4 35.9,87.7 44,85.7 46,85.6 51.5,85.6 57.1,84.8ZM-2,105.2 -2,104.7 -0,104.7 4.5,105.5 10.6,106.3 11.7,106.7 12.3,107.2 12.3,109.2 -2,109.2 -2,105.2Z"/>
<path fill="#ff0000" d="M57,85.4 59.6,85.2 66.2,85.8 72.8,85.4 79.8,86.5 84.9,87 86.9,87.4 88.4,88 89.9,88.9 90.6,89.9 90.4,90.4 89.9,91 89.1,91.5 86.9,92.2 80.9,93.5 75.8,94.1 64.2,94.6 54.6,94.4 41.9,95.2 34.9,96 27.8,95.9 20.7,96.3 13.6,95.9 6.6,96 0.5,95.3 -2,95.3 -2,90.3 8.6,89.9 15.2,89.4 24.8,89.4 33.3,88.9 36.9,88.3 44,86.4 46,86.2 52,86.1 57,85.4ZM-2,106.7 -2,106.2 -0,106.2 5.6,107.2 5.6,109.2 -2,109.2 -2,106.7Z"/></g></g><mask id="c2b" maskUnits="userSpaceOnUse" x="-2" y="-2" width="200" height="200"><rect width="114.7" height="107.2" fill="#fff"/></mask></svg>
<div class="t" style="left:190.4px;top:3.97822px;font-size:7.35px">Temperature (K)</div>
<div class="cb" style="left:210.9px;top:20.3px;width:6.3px;height:96.4px"></div>
<div class="l" style="left:218.2px;top:16.75px;font-size:5.9px">320.50</div>
<div class="l" style="left:218.2px;top:36.25px;font-size:5.9px">316.40</div>
<div class="l" style="left:218.2px;top:55.85px;font-size:5.9px">312.30</div>
<div class="l" style="left:218.2px;top:74.65px;font-size:5.9px">308.20</div>
<div class="l" style="left:218.2px;top:94.15px;font-size:5.9px">304.10</div>
<div class="l" style="left:218.2px;top:113.35px;font-size:5.9px">300.00</div>
<div class="c" style="left:265.2px;top:126.953px">Design 2b</div>
<svg style="left:138.9px;top:150.8px" width="118" height="110.5" viewBox="-2 -2 118 110.5"><g filter="url(#sb)"><g mask="url(#c2c)"><rect x="-2" y="-2" width="118" height="110.5" fill="#00bff5"/>
<path fill="#00e1f0" d="M-2,-2 116,-2 116,108.5 -2,108.5 -2,-2Z"/>
<path fill="#00eee5" d="M-2,-2 116,-2 116,108.5 -2,108.5 -2,-2Z"/>
<path fill="#00efcf" d="M-2,-2 107,-2 107.1,0.5 107.5,1.5 108.5,2.6 110.2,3.5 112,4 116,4.2 116,108.5 -2,108.5 -2,-2Z"/>
<path fill="#00f0b9" d="M-2,-2 101.2,-2 101.2,1 101.5,2.5 102.4,4.3 103.9,5.6 106,6.6 109.5,7.6 112.5,8.1 116,8.2 116,108.5 -2,108.5 -2,25.3 0,25.3 2,26.2 3,26.5 4.5,26.3 5.4,25.7 6,24.9 6.6,22.7 6.5,21.7 6,20 5.5,19.1 4.4,18.2 3.5,17.9 2.5,18 0,19.4 -2,19.4 -2,-2Z"/>
<path fill="#00f1a3" d="M-2,-2 97.6,-2 97.5,4 97.7,5 98.4,6.1 100.3,7.1 109,9.9 112,10.4 116,10.5 116,108.5 -2,108.5 -2,31.5 4.5,31.3 6,31 7.4,30.3 8.4,29.3 9.1,27.8 9.8,25.2 10,22.7 9.8,20.2 9,17.7 7.5,15.3 6,13.9 4.5,13 3,12.7 0,13 -2,13 -2,-2Z"/>
<path fill="#00f18d" d="M-2,-2 94.3,-2 94.3,0.5 93.1,5 93.4,6.1 94.1,6.6 96.4,7.6 104,9.7 109.5,12 112,12.5 116,12.5 116,108.5 -2,108.5 -2,33.4 1,33.4 5.5,32.9 7.5,32.3 8.5,31.7 9.9,30.3 10.6,28.8 11.1,25.7 11.3,22.7 11,19.7 10,16.5 8.5,13.7 5.5,9.4 4.5,8.6 3,8.2 2,8.2 0,8.7 -2,8.7 -2,-2Z"/>
<path fill="#00f278" d="M-2,-2 90.8,-2 90.8,-0 89.7,2.5 88.4,3.9 85.7,5.6 85.4,6.1 88.7,7.1 99.4,9.4 102.4,10.3 105,11.3 109,13.9 110.5,14.5 112.5,14.7 116,14.8 116,108.5 -2,108.5 -2,34.6 1.5,34.5 7,33.7 9.1,32.8 10.2,31.8 11,30.7 11.6,29.8 11.9,28.3 12.3,24.2 12.3,21.7 11.6,17.7 9.7,12.6 9.4,11.6 9.4,10.6 9.7,9.6 10.5,8.6 11.6,7.7 14.2,6.1 12.8,5.6 6,4.2 3,4 -2,4.1 -2,-2Z"/>
<path fill="#00f164" d="M-2,-2 85.8,-2 85.8,-0 84.4,1 81.9,1.4 13.1,1.4 2.5,0.4 -2,0.4 -2,-2ZM15.4,8.6 21.1,8.3 83.9,8.3 88.9,8.5 97.4,9.8 101.4,10.8 103.5,11.6 105.2,12.6 106.4,13.6 109,16.2 110.5,17.3 112.5,17.8 116,17.9 116,108.5 -2,108.5 -2,35.6 2.5,35.3 6,34.9 7.5,34.5 9,33.8 10,33.1 11,32.2 12.2,30.8 12.7,29.8 13,28.3 13.1,22.2 12.7,18.7 11.2,13.6 11,11.6 11.4,10.6 12.5,9.6 14.1,8.9 15.4,8.6Z"/>
<path fill="#00f050" d="M15.7,9.6 20.6,9.3 88.4,9.4 94.4,10 99.9,11 103,12.2 104.4,13.1 105.5,14.1 107.1,16.2 109.5,20.1 111.5,22.5 114,24.6 116,24.6 116,108.5 -2,108.5 -2,36.4 2,36.2 5.5,35.8 7.5,35.3 9,34.6 10.5,33.6 12,32.3 13.2,30.8 13.7,29.8 13.9,28.8 13.8,22.2 13.4,18.7 12.3,14.1 12.2,12.6 12.5,11.6 13.3,10.6 14.6,9.9 15.7,9.6Z"/>
<path fill="#00ef3b" d="M17.9,10.1 88.9,10.1 93.9,10.5 98.9,11.3 101.9,12.4 104.3,14.1 106.2,16.7 108.1,21.2 109.5,23.3 114,27.6 116,27.6 116,108.5 -2,108.5 -2,37.1 0.5,37.1 4,36.7 6.2,36.3 8,35.8 9.5,35.1 11,34 12.9,32.3 14.2,30.8 14.7,29.8 14.9,28.3 14.6,25.7 14.4,20.7 14,17.7 13.3,14.6 13.2,13.1 13.6,12 14.6,11 16.1,10.4 17.9,10.1Z"/>
<path fill="#00ef27" d="M16.3,11.1 18.1,10.8 21.1,10.7 89.4,10.7 94.4,11.2 98.9,11.9 101.4,12.9 103.5,14.4 104.5,15.6 105.4,17.2 107,22.2 108.5,24.7 113.5,30.2 114,30.5 116,30.5 116,108.5 -2,108.5 -2,37.8 1,37.7 4.5,37.3 6.5,36.9 8.3,36.3 10,35.4 11.6,34.3 14.3,31.8 15.6,30.3 15.9,29.8 16,28.8 15.3,25.7 15.1,21.2 14.1,14.1 14.2,13.1 14.7,12.1 15.3,11.6 16.3,11.1Z"/>
<path fill="#02ee14" d="M17.3,11.6 19.1,11.3 21.6,11.3 89.4,11.3 93.9,11.7 98.4,12.4 100.9,13.4 102.7,14.6 103.9,16.2 104.6,17.7 105.3,19.7 106.2,23.7 107.2,26.8 107.8,27.8 113.5,32.4 114,32.6 116,32.6 116,108.5 -2,108.5 -2,38.4 1,38.3 4.5,37.9 7,37.4 8.5,36.9 11,35.3 17,30.3 17.3,29.3 16,25.7 14.9,14.6 15,13.6 15.5,12.6 16.1,12.1 17.3,11.6Z"/>
<path fill="#1df010" d="M18.5,12.1 22.1,11.9 89.9,12 93.9,12.3 97.9,12.9 100.1,13.6 101.9,14.9 103.2,16.7 104.2,19.2 104.9,24.2 104.9,25.7 104.5,26.7 104,27.3 99.9,30.3 100,30.8 103,31.2 108.5,31.5 110,32 113.5,34.2 114,34.3 116,34.3 116,108.5 -2,108.5 -2,39 0.5,39 3.5,38.7 6,38.3 8,37.7 10.5,36.4 15.6,32.4 17.6,31.5 20.3,30.8 20.4,30.3 18.1,28.2 17,26.2 16.6,24.7 15.7,15.6 15.8,14.1 16.3,13.1 17.1,12.6 18.5,12.1Z"/>
<path fill="#38f30c" d="M25.9,12.6 88.9,12.6 92.4,12.8 96.4,13.2 98.3,13.6 99.6,14.1 100.9,15 101.9,16.2 102.8,17.7 103.4,19.7 103.6,21.7 103.6,24.7 103.1,26.2 102.1,27.3 100.4,28.2 98.4,28.7 96.9,28.7 91.9,28 85.4,28.7 79.3,28 72.8,28.7 66.8,28 60.3,28.7 53.7,28 47.7,28.7 41.2,28 35.2,28.7 28.6,28 23.1,28.7 20.6,28.5 19.6,28.1 18.6,27.3 17.6,25.6 16.8,20.2 16.5,15.6 16.6,14.6 17.2,13.6 18.6,12.9 20.6,12.6 25.9,12.6ZM25.1,32.3 27.1,31.9 29.1,31.8 33.6,32.6 35.2,32.7 41.2,31.8 47.7,32.7 53.7,31.8 60.3,32.7 65.3,31.9 66.8,31.8 72.8,32.7 79.3,31.8 85.4,32.7 86.9,32.6 90.4,31.9 92.4,31.8 97.4,32.7 101.9,32.4 104.5,32.7 109,34.1 113,36.1 114,36.3 116,36.3 116,108.5 -2,108.5 -2,39.6 0.5,39.6 3.5,39.3 6,38.9 8,38.3 10.5,37 15.1,33.4 17.1,32.6 18.6,32.4 22.6,32.7 25.1,32.3Z"/>
<path fill="#53f508" d="M19.3,13.6 22.6,13.4 88.4,13.4 94.9,13.7 97.4,14.1 98.9,14.6 99.9,15.2 100.9,16.3 101.9,18.1 102.4,19.7 102.6,21.7 102.4,24.2 101.9,25.7 100.9,26.8 99.4,27.5 97.9,27.7 91.9,27 85.4,27.7 79.3,27 72.8,27.7 66.3,27 60.3,27.7 53.7,27 47.7,27.7 41.2,27 35.2,27.7 28.6,27 23.1,27.6 21.6,27.6 20.1,27.2 19.1,26.4 18.6,25.7 18.1,24 17.5,20.2 17.4,15.6 17.6,15 18.1,14.2 19.3,13.6ZM27.4,32.8 29.6,32.8 34.7,33.6 41.2,32.7 47.2,33.6 48.7,33.5 53.7,32.7 60.3,33.6 66.3,32.7 72.8,33.6 79.3,32.7 85.4,33.6 91.9,32.7 97.4,33.6 103,33.4 104.3,33.8 105.2,34.3 106.3,35.3 106.8,36.3 107.3,38.4 107.5,42.4 108,45.4 108.5,46.8 109,47.4 109.5,47.6 110,47.4 110.4,46.9 110.9,45.9 112.2,40.9 112.7,39.9 113.2,39.4 114,39 116,39 116,108.5 -2,108.5 -2,40.2 3,40 6,39.5 8,38.9 10.5,37.6 14.6,34.4 16.6,33.4 18.1,33.2 22.6,33.6 27.4,32.8Z"/>
<path fill="#6ef704" d="M19.9,14.6 21.6,14.4 27.6,14.4 89.4,14.4 94.4,14.6 97.8,15.1 99.5,16.2 100.4,17.4 101.1,18.7 101.5,20.2 101.5,21.7 101.1,24.2 100.6,25.2 99.4,26.2 97.9,26.5 91.9,26 85.4,26.6 79.3,26 72.8,26.6 66.3,26 60.3,26.6 53.7,26 47.7,26.6 41.2,26 35.2,26.6 28.6,26 22.1,26.5 20.6,26.1 19.6,25.2 19.1,24 18.6,21.7 18.3,19.2 18.5,16.2 19,15.1 19.9,14.6ZM26,33.8 29.1,33.6 33.1,34.2 35.2,34.4 41.2,33.5 47.7,34.4 53.7,33.5 60.3,34.4 66.8,33.5 72.8,34.4 79.3,33.5 85.4,34.4 91.9,33.5 97.4,34.3 102.4,34.3 104,34.9 104.8,35.8 105.2,36.8 105.8,38.9 106.3,44.4 107,47.6 108,49.8 108.7,50.5 109.5,50.7 110.5,50.3 111.4,49 113.2,44.4 114,42.9 116,42.9 116,108.5 -2,108.5 -2,40.8 3,40.6 6,40.1 8,39.5 10.5,38.3 14.6,35.2 16.6,34.1 18.1,34 22.6,34.4 26,33.8Z"/>
<path fill="#89fa00" d="M21.8,16.2 94.9,16.2 97.4,16.6 98.9,17.6 99.9,19.3 100.1,21.2 99.9,22.2 99.2,23.7 98.4,24.3 97.4,24.6 91.9,24.2 85.4,24.7 78.8,24.2 72.8,24.7 66.3,24.2 60.3,24.7 53.7,24.2 47.2,24.7 41.2,24.2 34.7,24.7 28.6,24.2 22.6,24.6 21.6,24.4 20.6,23.5 19.7,21.7 19.4,20.2 19.6,18.4 20.1,17.2 20.6,16.6 21.8,16.2ZM17,34.8 18.6,34.8 22.6,35.2 28.6,34.4 33.6,35.1 35.2,35.2 41.2,34.4 47.7,35.2 53.7,34.4 60.3,35.2 66.8,34.4 72.8,35.2 79.3,34.4 85.4,35.2 91.9,34.4 97.4,35.1 101.4,35.1 103,35.6 103.9,36.8 104.6,38.9 105.5,45.4 106.1,48.5 107,50.7 108,52.2 109,52.8 109.5,52.9 110.5,52.5 111.5,51.5 112,50.6 114,46.4 116,46.4 116,108.5 -2,108.5 -2,41.5 0.5,41.5 3.5,41.2 6,40.7 8,40.1 11,38.6 15.6,35.3 17,34.8Z"/>
<path fill="#9ffa00" d="M16.8,35.8 18.1,35.7 22.6,36.1 28.6,35.4 35.2,36.1 41.2,35.4 47.7,36.1 53.7,35.4 60.3,36.1 66.8,35.4 72.8,36.1 79.3,35.4 85.4,36.1 91.9,35.4 97.4,36.1 100.9,36.1 101.9,36.4 103,37.4 103.7,39.4 104.8,46.4 105.6,50 106.7,52.5 107.9,54 109,54.6 110,54.6 110.5,54.4 112,52.9 114,49.4 116,49.4 116,108.5 -2,108.5 -2,42.2 3,42 7.5,41 10.5,39.7 15.1,36.6 16.8,35.8Z"/>
<path fill="#b6fb00" d="M26.7,36.8 29.1,36.7 35.2,37.3 41.7,36.7 47.7,37.4 54.2,36.7 60.3,37.4 66.8,36.7 72.8,37.4 79.3,36.7 85.4,37.4 91.9,36.7 96.9,37.3 100.4,37.4 101.6,37.9 102.4,38.9 102.8,39.9 104.1,47.4 105,51 106.1,53.5 107.5,55.3 109,56.1 110.5,55.9 112,54.8 114,52 116,52 116,108.5 -2,108.5 -2,43.1 3,42.8 7.5,41.9 10,40.8 14.6,38 16.6,37.1 18.1,37 22.6,37.3 26.7,36.8Z"/>
<path fill="#ccfb00" d="M15.7,38.9 17.6,38.6 22.6,39 28.6,38.5 35.2,39 41.2,38.5 47.7,39 53.7,38.5 60.3,39 66.3,38.5 72.8,39 79.3,38.5 85.4,39 91.9,38.5 99.4,39 100.4,39.2 100.9,39.5 101.4,40.1 101.9,41.3 103.6,49 104.4,52 105.5,54.5 107,56.4 108.5,57.3 110,57.4 111,57 111.8,56.5 114,54.2 116,54.2 116,108.5 -2,108.5 -2,44 3,43.7 7.5,42.8 10.5,41.6 14.5,39.4 15.7,38.9Z"/>
<path fill="#e2fb00" d="M13.9,41.9 16.6,41.4 22.1,41.7 28.6,41.4 34.7,41.7 41.2,41.4 47.7,41.7 53.7,41.4 60.3,41.7 66.8,41.4 72.8,41.7 79.3,41.4 85.4,41.7 91.9,41.4 98.4,41.7 99.9,42.1 100.9,43.4 101.4,44.6 103.1,51 104.2,54 105.3,56 106.5,57.3 108,58.2 109,58.5 110,58.5 111.5,57.9 114,56.1 116,56.1 116,108.5 -2,108.5 -2,45.1 2,45 6.5,44.3 9.5,43.6 13.9,41.9Z"/>
<path fill="#f8fc00" d="M4.6,46.4 11,46 21.6,46.3 92.9,46.2 97.9,46.3 99.4,46.7 100.4,47.8 103.7,55.5 104.8,57 106.6,58.5 108.5,59.4 110,59.5 111.5,59 114,57.5 116,57.5 116,108.5 -2,108.5 -2,46.7 4.6,46.4Z"/>
<path fill="#ffec00" d="M-2,52 -2,51.6 4,51.8 18.1,54 24.1,54.5 98.9,54.5 99.9,54.6 100.9,55.1 105.7,59.1 107,59.9 108.5,60.4 109.5,60.5 111,60.3 114,58.8 116,58.8 116,108.5 -2,108.5 -2,52Z"/>
<path fill="#ffd600" d="M22.1,58 28.1,57.9 99.9,57.9 102.4,58.3 107,60.9 109,61.5 111,61.3 114,60 116,60 116,108.5 -2,108.5 -2,81.1 5,81.1 6.6,80.8 6.3,80.3 4.8,78.7 4.7,78.2 4.8,77.7 8,75.1 9.4,73.7 10.9,71.7 11.5,70.2 11.5,68.1 10.2,64.1 10.1,63.1 10.4,61.6 11.2,60.6 12.8,59.6 15.1,58.9 18.1,58.4 22.1,58Z"/>
<path fill="#ffbf00" d="M23.8,60.1 29.1,59.8 100.9,59.8 103,60.1 107.5,62.2 109.5,62.5 111,62.3 114,61.1 116,61.1 116,79.3 113.5,79.3 108,80.3 101.4,80.2 98,80.8 98.4,80.9 103,81.5 111.2,83.8 112.2,84.3 112.4,84.8 112.1,85.3 110.1,87.8 109,89.9 107.9,92.9 107,97.4 106.6,98.4 106,99.3 105,100.1 104,100.5 100,100.9 98.4,101.5 106,104.3 109,105.8 110,106.5 110,108.5 -2,108.5 -2,82.9 8,83.1 15.6,81.7 22.3,81.8 25.6,81.3 22.6,81 20.6,80.5 13.7,78.2 12.9,77.7 12.6,77.2 12.6,76.7 13.2,75.7 16.6,71.7 17.3,70.2 17.2,68.6 15.6,64.6 15.7,63.6 15.9,63.1 16.9,62.1 18.6,61.2 20.7,60.6 23.8,60.1ZM27.6,80.7 27.2,80.8 32.3,80.8 27.6,80.7ZM35.2,81.3 34.7,81.3 36.1,81.3 35.2,81.3ZM42.2,80.8 42.1,80.8 42.9,80.8 42.2,80.8ZM81.4,81.3 80.9,81.3 81.6,81.3 81.4,81.3ZM84.4,80.8 89.3,80.8 84.4,80.8ZM91.9,81.2 91.6,81.3 96.7,81.3 91.9,81.2Z"/>
<path fill="#ffa900" d="M24.2,62.1 26.6,61.7 29.6,61.6 101.4,61.7 104,62 107.5,63.4 109.5,63.8 111,63.5 114,62.4 116,62.4 116,76.8 113,76.9 107,78.4 100.9,78.6 94.4,79.4 86.9,78.8 79.9,79.4 72.8,78.8 65.3,79.4 58.3,78.8 51.2,79.4 44.2,78.8 37.2,79.4 30.1,78.8 24.6,79.2 22.1,79.1 20.6,78.7 18.6,77.7 18,77.2 17.7,76.7 17.7,76.2 18.4,75.2 22.4,71.7 23.2,70.7 23.4,70.2 23.1,69.1 20.9,66.1 20.3,64.6 20.7,63.6 21.4,63.1 22.4,62.6 24.2,62.1ZM42.4,82.3 45.2,82.2 51.2,82.7 58.8,82 65.8,82.7 72.8,82.1 79.9,82.9 86.9,82.3 93.9,83 100.4,82.6 103,83 105.5,84.1 106.3,84.8 106.7,85.3 106.8,86.3 104.5,95.4 103.4,97.4 102.4,98.2 101.4,98.6 93.4,100.3 90.9,100.4 86.4,99.7 84.4,99.6 78.8,100.3 76.8,100.4 70.3,99.6 62.8,100.4 57.8,99.7 55.7,99.6 48.7,100.4 41.7,99.6 34.7,100.4 27.6,99.6 20.6,100.4 15.1,99.8 13.1,99.7 11.4,99.9 9.6,100.4 9.4,100.9 12.1,101.2 14.1,101.6 18.1,103 21.1,103.7 23.1,103.9 28.1,103.7 34.1,104.4 41.7,103.7 48.7,104.4 55.7,103.7 63.3,104.4 70.3,103.7 77.3,104.4 84.4,103.7 91.4,104.4 97.9,103.9 100.7,104.5 103.6,106 104.1,106.5 104.1,108.5 -2,108.5 -2,84.2 8,84.2 16.1,82.7 22.6,83 30.1,82.3 37.2,82.9 42.4,82.3Z"/>
<path fill="#ff9200" d="M28.8,64.6 31.6,64.5 101.4,64.5 103.5,64.6 103.8,65.1 101.4,65.3 31.1,65.3 29,65.1 28.8,64.6ZM26.7,74.2 28.1,73.9 30.1,73.8 36.7,74 43.7,73.8 51.2,74 58.3,73.8 65.3,74 72.3,73.8 79.3,74 86.4,73.8 93.9,74 99.9,73.8 102.4,74.3 103.5,74.9 103.9,75.7 103.6,76.2 102.4,76.7 96.5,77.7 93.9,77.9 86.9,77.3 79.9,77.9 72.3,77.3 66.8,77.8 64.8,77.9 58.3,77.3 51.7,77.9 44.2,77.3 36.7,77.9 30.6,77.3 25.1,77.5 23.8,77.2 23.2,76.7 23.3,76.2 24.1,75.5 26.7,74.2ZM56,82.8 59.3,82.6 65.8,83.3 72.8,82.8 79.9,83.5 86.4,83.1 93.4,83.8 98.4,83.5 100.4,83.6 102.6,84.3 103.7,85.3 104,86.8 103.9,89.8 103.5,91.4 102.2,94.9 101.7,95.9 100.9,96.6 99.7,97.4 98.3,97.9 95.4,98.7 92.9,99.1 90.4,99.1 84.9,98.4 77.3,99.2 71.8,98.5 69.8,98.4 63.3,99.2 56.2,98.5 48.7,99.2 41.7,98.4 34.7,99.2 27.6,98.4 20.6,99.2 13.6,98.4 6,99.2 0.5,98.6 -2,98.5 -2,85.7 7.5,85.3 14.6,83.8 16.6,83.6 23.1,83.8 30.1,83.1 37.2,83.6 44.2,82.8 51.2,83.3 56,82.8ZM-2,101.5 -2,101.1 0,101.1 6,102.1 12.6,102.2 14.6,102.6 19.1,104.2 22.1,104.9 34.1,105.9 41.7,105.3 48.7,105.9 55.7,105.3 63.3,105.9 70.3,105.3 77.3,105.9 84.4,105.3 91.4,105.9 97.4,105.6 98.9,105.9 100.1,106.5 100.1,108.5 -2,108.5 -2,101.5Z"/>
<path fill="#ff7a00" d="M55.6,83.3 58.8,83.1 65.8,83.7 72.3,83.3 79.3,84.1 86.9,83.8 93.4,84.5 98.9,84.5 100.4,85 101.3,85.8 102,88.3 102,90.3 101.5,91.9 100.4,93.8 99.7,94.9 98.7,95.9 97.4,96.6 95.9,97.1 92.4,97.7 84.9,97.2 77.3,97.9 70.3,97.4 63.3,98 56.2,97.5 49.2,98 41.7,97.3 34.7,97.8 27.1,97.2 20.1,97.7 13.1,97.1 6,97.7 0.5,97.2 -2,97.1 -2,87.5 1,87.4 7,86.6 14.6,84.8 16.6,84.5 23.1,84.5 30.1,83.8 37.2,84.1 44.2,83.3 51.2,83.7 55.6,83.3ZM-2,102 -2,101.7 0,101.7 6,102.8 11.6,102.7 14.1,103.1 22.9,106.5 22.9,108.5 -2,108.5 -2,102Z"/>
<path fill="#ff6000" d="M44.2,83.8 51.2,84.2 58.8,83.5 65.8,84.1 72.3,83.7 79.3,84.6 85.4,84.4 87.9,84.6 92.4,85.3 96.4,85.6 97.9,86 98.9,86.6 99.9,87.9 100.5,89.3 100.5,90.3 99.8,91.9 97.9,93.9 96.4,94.9 94.9,95.5 91.4,95.9 84.4,96 77.3,96.7 70.3,96.6 63.3,97.1 56.2,96.7 49.2,97 41.7,96.4 35.2,96.4 27.6,95.9 20.1,96.2 13.6,95.7 6.5,95.7 0.5,95.2 -2,95.2 -2,89.2 0,89.2 4,88.1 16.1,85.5 23.6,85.3 30.1,84.5 37.2,84.7 44.2,83.8ZM-2,102.5 -2,102.3 0,102.3 6,103.3 11.6,103.3 13.6,103.6 16.9,105 19.6,106.5 19.6,108.5 -2,108.5 -2,102.5Z"/>
<path fill="#ff4600" d="M43.3,84.3 45.2,84.2 51.2,84.5 58.3,83.9 65.8,84.5 72.3,84.1 79.3,85 86.9,85.2 95,86.8 96.6,87.3 97.5,87.8 98.4,88.7 98.8,89.3 98.8,90.3 97.9,91.8 96.4,92.9 94.4,93.7 91.9,94.3 77.8,95.9 70.3,95.9 63.3,96.5 56.2,96.1 49.2,96.3 41.2,95.6 35.2,95.6 28.1,95.1 18.6,95 9,94.2 6,93.7 3,92.7 1.7,91.9 1.4,91.4 1.4,90.9 1.6,90.3 2.2,89.8 4,89 6.5,88.3 14.6,86.5 17.6,86.2 23.6,86 30.1,85.2 37.2,85.2 43.3,84.3ZM-2,103 -2,102.8 0,102.8 5.5,103.7 11.6,103.9 13.6,104.4 16,105.5 17.3,106.5 17.3,108.5 -2,108.5 -2,103Z"/>
<path fill="#ff2c00" d="M42.9,84.8 45.2,84.7 51.2,85 58.3,84.3 65.3,84.9 72.3,84.6 79.3,85.5 85.9,85.8 88.9,86.3 94.9,88.1 96.4,89 96.9,89.8 96.9,90.3 96.2,91.4 94.9,92.2 92.4,93 89.4,93.6 77.8,95.2 70.3,95.4 62.8,95.9 56.2,95.6 49.2,95.7 41.2,95 18.1,94.3 10.5,93.5 7.5,93 6,92.6 4.5,91.9 3.9,91.4 3.7,90.9 3.9,90.3 4.4,89.8 6,89.1 14.6,87.1 17.6,86.8 23.6,86.6 30.1,85.8 37.2,85.7 42.9,84.8ZM-2,103.5 -2,103.3 0.5,103.4 5.5,104.3 10.5,104.6 12.6,104.9 13.8,105.5 15,106.5 15,108.5 -2,108.5 -2,103.5Z"/>
<path fill="#ff1100" d="M56.9,84.8 59.8,84.8 65.3,85.3 72.8,85.1 79.3,86 85.9,86.5 88.9,87.1 92.2,88.3 94,89.3 94.3,89.8 94.4,90.3 94,90.9 93.4,91.4 91.9,92 89.4,92.7 85.9,93.4 77.3,94.6 70.3,94.8 62.8,95.3 56.2,95 49.2,95.1 41.2,94.4 19.1,93.8 9,92.6 6.8,91.9 6,91.4 5.7,90.9 5.8,90.3 6.4,89.8 7.5,89.3 11.3,88.3 15.6,87.5 23.6,87.2 30.1,86.4 36.7,86.2 44.2,85.2 51.2,85.4 56.9,84.8ZM-2,104.5 -2,104 0,104 4.5,104.8 10.5,105.6 11.6,106 12.3,106.5 12.3,108.5 -2,108.5 -2,104.5Z"/>
<path fill="#ff0000" d="M57.1,85.3 59.7,85.3 65.3,85.8 72.8,85.7 78.8,86.6 85.4,87.2 88,87.8 90.3,88.8 91.3,89.8 91.3,90.3 90.4,91.2 88.8,91.9 86.4,92.5 80.4,93.5 76.3,94 62.8,94.7 56.2,94.5 49.2,94.5 40.7,93.8 19.6,93.2 10.5,92.2 8.5,91.5 7.7,90.9 7.8,90.3 8.5,89.8 9.8,89.3 15.6,88.1 23.6,87.8 30.1,87.1 36.2,86.9 44.2,85.8 51.2,85.9 57.1,85.3ZM-2,106 -2,105.5 0,105.5 5.6,106.5 5.6,108.5 -2,108.5 -2,106Z"/></g></g><mask id="c2c" maskUnits="userSpaceOnUse" x="-2" y="-2" width="200" height="200"><rect width="114" height="106.5" fill="#fff"/></mask></svg>
<div class="t" style="left:90.4px;top:142.555px;font-size:7.85px">Temperature (K)</div>
<div class="cb" style="left:113.2px;top:159px;width:6.4px;height:95.7px"></div>
<div class="l" style="left:120.3px;top:155.95px;font-size:6.3px">320.60</div>
<div class="l" style="left:120.3px;top:174.85px;font-size:6.3px">316.48</div>
<div class="l" style="left:120.3px;top:194.05px;font-size:6.3px">312.36</div>
<div class="l" style="left:120.3px;top:213.15px;font-size:6.3px">308.24</div>
<div class="l" style="left:120.3px;top:232.15px;font-size:6.3px">304.12</div>
<div class="l" style="left:120.3px;top:251.05px;font-size:6.3px">300.00</div>
<div class="c" style="left:175.3px;top:265.253px">Design 2c</div>
<svg style="left:51.7px;top:295.9px" width="116.3" height="105.1" viewBox="-2 -2 116.3 105.1"><g filter="url(#sb)"><g mask="url(#c3a)"><rect x="-2" y="-2" width="116.3" height="105.1" fill="#00bff5"/>
<path fill="#00e1f0" d="M-2,-2 114.3,-2 114.3,103.1 -2,103.1 -2,-2Z"/>
<path fill="#00eee5" d="M-2,-2 101,-2 100.8,1.5 101.2,2.3 102.2,2.7 104.7,2.5 111.3,0.9 114.3,0.8 114.3,103.1 -2,103.1 -2,-2Z"/>
<path fill="#00efcf" d="M7.5,-2 92.3,-2 92.5,0.5 93.2,2.5 94,4 94.8,5 96,6 98.2,7 99.7,7.2 101.7,7.1 103.9,6.5 110.3,4.4 112.3,4.1 114.3,4.1 114.3,103.1 -2,103.1 -2,17.3 0.5,17.2 2,16.6 2.9,15.6 3.3,14.1 3,12.6 2.5,11.7 1.5,10.6 -0,9.8 -2,9.8 -2,4.1 -0,4.1 1.5,3.8 5,2 7.5,0 7.5,-2Z"/>
<path fill="#00f0b9" d="M19.7,5 28.2,4.8 37.3,5.3 49.9,4.7 58.9,5.3 71.5,4.7 78.1,5.1 84.1,5.3 87.1,5.9 96.2,9.1 98.7,9.7 100.7,9.9 102.7,9.7 104.2,9.3 110.8,6.9 112.3,6.7 114.3,6.7 114.3,103.1 -2,103.1 -2,20.4 -0,20.4 2,20.1 3.5,19.6 5,18.7 7,16.6 10.1,11.1 12.6,8.6 14.1,6.7 15.1,5.9 16.1,5.5 19.7,5Z"/>
<path fill="#00f1a3" d="M23.6,9.6 29.2,9.5 36.8,10.1 49.9,9.4 57.9,10 64.5,9.9 71.5,9.4 80.1,10 90.6,9.9 93.7,10.2 100.7,12 103.7,12.4 106.3,12 111.3,10 114.3,9.9 114.3,103.1 -2,103.1 -2,21.8 0.5,21.8 2.5,21.4 4,21 5.8,20.1 8.3,18.1 12.6,12.9 13.6,12 15.1,11.1 17.1,10.3 18.6,10 23.6,9.6Z"/>
<path fill="#00f18d" d="M24.6,11.6 29.7,11.6 36.8,12.1 49.9,11.5 58.4,12.1 65,11.9 71,11.4 78.1,11.9 83.1,12 86.1,12 90.6,11.6 92.7,11.7 96.6,12.6 101.4,14.6 103.7,16.1 106.8,18.8 108.3,19.7 110.3,20.2 114.3,20.3 114.3,103.1 -2,103.1 -2,22.8 -0,22.8 2.5,22.5 4.5,22 6.5,21.1 9.3,19.1 14.1,14.4 15.6,13.3 17.1,12.6 20.1,11.8 24.6,11.6Z"/>
<path fill="#00f278" d="M20.5,13.6 28.7,13.3 36.8,14 50.4,13.3 58.4,13.9 65,13.7 71.5,13.2 78.1,13.7 84.1,13.9 91.1,13.3 93.2,13.4 95.7,13.9 98.7,15.3 100.7,16.6 104.7,20.1 107.3,21.6 109.8,22.1 114.3,22.2 114.3,103.1 -2,103.1 -2,23.7 -0,23.7 2.5,23.4 6,22.4 9.9,20.1 14.1,16.6 16.1,15.1 18.1,14.1 20.5,13.6Z"/>
<path fill="#00f164" d="M21.5,15.1 29.2,15 36.8,15.6 50.4,14.9 58.4,15.5 65,15.3 71.5,14.8 78.1,15.4 84.1,15.5 91.1,14.9 93.2,14.9 95.2,15.4 97.2,16.3 99.2,17.6 103.7,21.1 106.8,22.8 109.3,23.4 114.3,23.4 114.3,103.1 -2,103.1 -2,24.4 2.5,24.2 6,23.3 10.2,21.1 17.1,16.3 19.1,15.5 21.5,15.1Z"/>
<path fill="#00f050" d="M21.2,16.6 29.2,16.4 36.8,17.1 50.4,16.4 58.4,17 65,16.8 71.5,16.3 78.1,16.9 84.6,17 92.7,16.4 94.2,16.6 96.2,17.4 104,22.6 106.8,24 109.3,24.4 114.3,24.4 114.3,103.1 -2,103.1 -2,25.2 2.5,24.9 6,24.1 11.1,21.6 17.6,17.5 19.1,17 21.2,16.6Z"/>
<path fill="#00ef3b" d="M20.7,18.1 29.2,17.9 36.8,18.5 50.4,17.8 58.4,18.5 65,18.3 71.5,17.8 78.1,18.3 84.6,18.4 92.7,17.8 94.2,18.1 96.2,18.9 103.7,23.5 106.3,24.7 108.8,25.3 114.3,25.3 114.3,103.1 -2,103.1 -2,25.8 2.5,25.6 6,24.8 11,22.6 17.6,19 19.1,18.4 20.7,18.1Z"/>
<path fill="#00ef27" d="M19.9,19.6 22.7,19.4 29.2,19.3 36.8,20 50.4,19.2 58.4,19.9 65,19.7 71.5,19.2 78.1,19.7 84.6,19.8 92.7,19.2 94.2,19.5 96.2,20.2 104.1,24.6 106.3,25.7 109.3,26.2 114.3,26.1 114.3,103.1 -2,103.1 -2,26.5 2,26.4 6,25.5 10.7,23.6 17.6,20.3 19.9,19.6Z"/>
<path fill="#02ee14" d="M24.3,20.6 29.7,20.6 36.8,21.2 49.9,20.5 57.9,21.2 65,21 71,20.4 78.1,21 84.1,21.1 86.6,21.1 91.1,20.5 93.2,20.5 94.7,20.8 96.2,21.4 104.2,25.6 106.8,26.6 109.3,27 114.3,27 114.3,103.1 -2,103.1 -2,27.3 1,27.2 5,26.6 9,25.1 18.1,21.3 20.6,20.8 24.3,20.6Z"/>
<path fill="#1df010" d="M70.6,21.6 73,21.7 78.1,22.2 84.1,22.3 86.6,22.2 91.7,21.7 93.7,21.7 96.7,22.6 104.2,26.5 106.8,27.5 109.8,28.1 114.3,28.1 114.3,33.5 112.3,33.5 110.8,33.9 108.8,34.7 107.5,35.7 107.6,36.2 108.9,36.7 114.3,36.7 114.3,103.1 -2,103.1 -2,28.4 1,28.3 4.5,27.5 17.1,22.7 20.6,22 29.2,21.7 36.8,22.4 50.4,21.7 58.4,22.4 65.5,22.1 70.6,21.6Z"/>
<path fill="#38f30c" d="M20.2,23.1 29.2,22.9 36.8,23.6 50.4,22.8 55.9,23.4 58.4,23.5 65.5,23.3 71.5,22.8 78.1,23.4 84.6,23.5 93.2,22.8 95.7,23.3 98.7,24.6 105.7,28.2 108,29.7 108.4,30.2 108.4,30.7 107.8,31.7 106.3,32.8 101.8,34.7 101.3,35.2 101.2,35.7 101.5,36.2 103.2,37.2 106.8,38.5 108.8,38.7 114.3,38.5 114.3,103.1 -2,103.1 -2,37.7 4.5,37.4 7.1,36.9 9.1,36.2 9.8,35.7 9.8,35.2 9.4,34.7 3.2,31.7 2.7,31.2 2.6,30.7 2.8,30.2 4.9,28.7 9.1,26.7 17.1,23.8 20.2,23.1Z"/>
<path fill="#53f508" d="M22,24.1 29.7,24.1 36.8,24.7 50.4,23.9 55.9,24.6 58.4,24.7 65.5,24.4 71.5,23.9 78.1,24.5 84.6,24.6 93.2,23.9 96.2,24.5 100.2,26.2 103.5,28.2 104.4,29.2 104.6,29.7 104.5,30.2 104.2,30.7 103.2,31.4 97.2,33.5 89.1,35 85.1,35.3 77,35.1 71.5,34.5 66,35.1 57.9,35.4 50.4,34.6 36.8,35.5 34.7,35.4 29.7,34.7 18.1,34.9 15.6,34.5 13.1,33.5 8.6,31.4 7.7,30.7 7.4,30.2 7.3,29.7 7.8,28.7 9.1,27.7 10.1,27.2 17.1,24.8 19.6,24.4 22,24.1ZM25.8,35.7 29.7,35.5 34.3,36.2 36.8,36.3 41.3,35.9 50.9,35.4 55.9,36.2 57.9,36.3 65.5,36 71.5,35.4 78.1,36.1 85.1,36.3 86.7,36.2 90.6,35.5 92.2,35.4 94.7,36 106.8,40.3 109.3,40.6 114.3,40.4 114.3,103.1 -2,103.1 -2,39.5 1.5,39.4 5.5,39 10.1,38.1 15.1,37.4 20.1,35.8 25.8,35.7Z"/>
<path fill="#6ef704" d="M48.5,25.1 51.4,25.1 57.9,25.8 65.5,25.6 71,25.1 78.1,25.7 84.6,25.8 87.1,25.7 91.7,25.1 93.7,25.1 96.3,25.7 99.7,27.1 101.2,28.2 101.5,28.7 101.5,29.2 101.2,29.7 100.4,30.2 97.7,31 95.7,31.3 91.1,31.6 86.1,32.2 78.1,32.1 71.5,31.5 65.5,32 57.4,32.3 49.9,31.5 36.8,32.4 29.2,31.6 16.1,32 14.1,31.6 12.1,30.8 11.1,30.2 10.6,29.7 10.3,29.2 10.4,28.7 10.8,28.2 12.8,27.2 16.6,26.1 20.1,25.5 29.2,25.2 36.8,25.9 48.5,25.1ZM70.9,37.7 73,37.8 77.6,38.4 85.1,38.5 87.1,38.4 91.1,37.8 93.7,37.9 100.7,39.9 107.8,42.9 109.8,43.2 114.3,43.2 114.3,103.1 -2,103.1 -2,41.8 0.5,41.8 3.5,41.5 10.1,39.8 15.1,39.2 19.1,38.3 21.7,38 29.7,37.9 36.8,38.7 50.4,37.8 57.9,38.6 65.5,38.3 70.9,37.7Z"/>
<path fill="#89fa00" d="M22.1,26.7 29.7,26.6 36.8,27.3 49.9,26.5 57.9,27.2 65.5,27 71.5,26.4 78.1,27 85.6,27.1 92.7,26.5 94.6,26.7 96.3,27.2 97.3,27.7 97.6,28.2 97.3,28.7 95.7,29.1 91.1,29.4 85.1,30.1 77.6,29.9 71.5,29.3 65.5,29.8 57.9,30.1 50.4,29.3 36.8,30.2 29.2,29.4 22.2,29.6 17.1,29.9 15.1,29.5 14.4,29.2 14.1,28.7 14.6,28.2 15.9,27.7 18.6,27.1 22.1,26.7ZM21.3,39.7 29.7,39.6 36.8,40.4 50.4,39.5 55.9,40.2 57.9,40.3 65.5,40 71.5,39.4 77.6,40.1 85.1,40.2 92.7,39.5 95.2,39.9 98.8,41.2 101.2,42.4 105.8,45.2 107.8,46 109.8,46.3 114.3,46.3 114.3,103.1 -2,103.1 -2,44.9 1,44.8 4,44.4 11.1,41.9 19.1,40 21.3,39.7Z"/>
<path fill="#9ffa00" d="M70.5,41.7 72.5,41.8 77.6,42.4 85.1,42.6 87.1,42.5 91.1,41.8 93.2,41.9 95.2,42.4 98.7,44.1 101.7,45.7 105.8,48.4 107.3,49.1 109.8,49.7 114.3,49.6 114.3,103.1 -2,103.1 -2,48.2 1,48.1 4,47.6 11.1,44.8 18.6,42.5 21.2,42.1 29.7,41.9 34.7,42.6 36.8,42.7 50.4,41.8 55.9,42.5 57.9,42.6 65.5,42.3 70.5,41.7Z"/>
<path fill="#b6fb00" d="M49.1,44.8 51.4,44.8 57.4,45.6 65.5,45.3 71.5,44.7 77.6,45.4 85.6,45.5 91.1,44.8 92.7,44.8 94.7,45.2 97.2,46.4 100.7,48.4 105.8,51.7 107.3,52.5 109.3,52.8 114.3,52.5 114.3,103.1 -2,103.1 -2,51.5 1,51.4 4.5,50.8 11.1,48.1 18.6,45.5 20.6,45.1 29.7,44.9 34.7,45.6 36.8,45.7 49.1,44.8Z"/>
<path fill="#ccfb00" d="M20.5,48.3 29.7,48.1 34.7,48.8 36.8,48.9 41.3,48.4 50.4,47.9 55.9,48.7 57.9,48.8 66,48.5 71.5,47.9 77.6,48.6 85.1,48.7 87.1,48.6 91.1,48 92.7,48 95.2,48.7 99.7,51.1 102.3,52.8 106.3,56.1 107.3,56.5 108.8,56.5 112.3,55.7 114.3,55.7 114.3,103.1 -2,103.1 -2,55.9 0.5,55.8 3,55.3 5,54.4 10.6,51.6 18.6,48.7 20.5,48.3Z"/>
<path fill="#e2fb00" d="M49.2,51.3 51.4,51.3 57.4,52.1 66,51.8 71,51.2 73,51.3 77.6,51.9 85.1,52.1 87.1,52 91.1,51.3 92.7,51.3 95.2,52 98.2,53.8 100.2,55.5 104.2,59.6 105.8,60.6 107.3,60.8 111.8,59.1 114.3,59.1 114.3,103.1 -2,103.1 -2,60.8 1.5,60.7 4.5,59.9 6.5,58.8 12.1,54.8 17.6,52.4 20.1,51.7 22.2,51.5 29.7,51.4 34.7,52.1 36.8,52.2 49.2,51.3Z"/>
<path fill="#f8fc00" d="M26.7,55.8 30.2,55.8 36.3,56.6 50.4,55.6 57.4,56.5 66,56.2 71.5,55.6 77.6,56.3 85.6,56.4 92.2,55.7 93.7,56 95.2,56.8 103.2,63.1 105.2,64.3 106.3,64.4 107.3,64.3 111.8,62.4 114.3,62.3 114.3,103.1 -2,103.1 -2,64.6 2.3,64.4 5.5,63.6 12.7,59.9 17.6,57 19.6,56.2 21.7,55.9 26.7,55.8Z"/>
<path fill="#ffec00" d="M20,61.4 22.2,61.2 29.7,61.1 34.7,61.8 36.8,61.9 41.3,61.4 50.4,60.9 52.4,61.1 55.9,61.7 57.9,61.8 66,61.5 71.5,60.9 77.6,61.6 85.6,61.7 92.2,60.9 93.7,61.2 95.2,61.8 103.7,67 105.8,67.8 107.8,67.7 110.8,66.4 112.3,65.9 114.3,65.9 114.3,103.1 -2,103.1 -2,67.8 2,67.7 5,67.1 18.1,61.9 20,61.4Z"/>
<path fill="#ffd600" d="M20,65.4 21.7,65.2 29.7,65.1 34.7,65.8 36.8,65.9 41.3,65.5 50.4,65 55.9,65.7 57.9,65.8 66,65.5 71.5,64.9 77.6,65.6 85.6,65.8 92.2,65 93.7,65.2 95.2,65.7 101.5,68.9 106.3,72.6 107.8,73.6 109.8,74 112.3,73.7 114.3,73.7 114.3,103.1 -2,103.1 -2,72.2 0.5,72.2 3,71.7 4.5,71.1 10.1,68.4 20,65.4Z"/>
<path fill="#ffbf00" d="M70.9,68.4 72.5,68.4 77.6,69.1 85.1,69.2 87.1,69.1 91.1,68.5 92.7,68.5 95.2,69.1 98.1,70.9 102.2,75.1 104.8,78.5 106.2,81.5 108.1,87.5 109.3,89.7 110.3,90.7 111.3,91.3 112.3,91.5 114.3,91.5 114.3,103.1 -2,103.1 -2,77.7 2,77.5 5,76.7 7.3,75.4 11.6,72.4 13.6,71.2 17.9,69.4 20.6,68.8 29.7,68.6 34.7,69.3 36.8,69.4 41.3,68.9 50.4,68.4 57.4,69.3 66,69 70.9,68.4Z"/>
<path fill="#ffa900" d="M70.5,74.4 72.5,74.4 77.6,75.1 85.1,75.2 87.1,75.1 91.1,74.5 92.7,74.5 94.2,74.8 96.2,75.9 101.2,79.6 103.2,81.8 104.5,84 107.3,90.4 108.3,92.2 109.3,93.4 110.3,94.3 111.3,94.8 112.3,95 114.3,95 114.3,103.1 -2,103.1 -2,82.4 2,82.2 5,81.6 17.1,75.7 18.6,75.2 20.6,74.8 29.7,74.6 36.8,75.4 41.3,74.9 50.4,74.5 57.4,75.3 66,75 70.5,74.4Z"/>
<path fill="#ff9200" d="M71.1,80.5 77.6,81.1 85.1,81.2 92.7,80.5 94.7,80.9 96.7,81.8 100.7,84.1 102.7,85.9 104.7,89.1 107.8,95 108.8,96.5 109.8,97.5 110.8,98.3 111.8,98.6 114.3,98.7 114.3,103.1 -2,103.1 -2,86.5 2,86.4 5,85.9 11.1,83.6 17.1,81.5 20.6,80.8 29.7,80.6 36.8,81.4 50.4,80.5 55.9,81.2 57.9,81.3 66,81 71.1,80.5Z"/>
<path fill="#ff7a00" d="M19.3,86 21.7,85.8 29.7,85.7 36.8,86.4 50.4,85.6 57.9,86.3 66,86.1 71.5,85.5 77.6,86.1 85.6,86.3 91.7,85.6 94.2,85.8 96.2,86.4 100.7,88.4 102.2,89.4 103.3,90.5 105.1,93.6 106.7,97.6 106.9,99.1 106.7,103.1 -2,103.1 -2,89.5 2.5,89.4 5.5,89.1 19.3,86Z"/>
<path fill="#ff6000" d="M20.2,89.5 29.7,89.3 36.8,90 50.4,89.2 57.9,89.9 65.5,89.7 71.5,89.2 77.6,89.9 85.1,90.2 93.2,89.9 95.2,90.3 97.2,91 99.7,92 101.5,93.1 102.2,93.7 103.1,95.1 103.7,96.6 103.8,97.6 103.5,98.6 103,99.1 99.6,101.1 99.6,103.1 -2,103.1 -2,91.8 5,91.6 10.6,90.7 20.2,89.5Z"/>
<path fill="#ff4600" d="M20.6,92 29.7,91.9 36.3,92.5 49.9,91.8 57.4,92.4 71.5,92.1 90.6,94.9 93.2,95.8 94.1,96.6 94.3,97.1 94.2,97.6 93.9,98.1 91.7,100.1 90.9,101.1 90.9,103.1 -2,103.1 -2,93.7 5,93.5 20.6,92Z"/>
<path fill="#ff2c00" d="M20.2,94.1 29.7,93.9 36.8,94.5 50.4,93.8 56.9,94.4 70,94.5 72,94.7 81.1,96.8 83.1,97.6 83.9,98.1 84.4,98.6 84.8,99.6 84.6,103.1 -2,103.1 -2,95.2 4.5,95.1 10.1,94.7 15.1,94.6 20.2,94.1Z"/>
<path fill="#ff1100" d="M21,95.6 29.7,95.4 36.8,96 50.4,95.3 56.9,96 70.5,96.6 72.5,97 74.3,97.6 77,99.1 77.9,100.1 78.3,101.1 78.3,103.1 -2,103.1 -2,96.5 5,96.4 10.1,96.1 15.6,96.1 21,95.6Z"/>
<path fill="#ff0000" d="M18.8,97.1 21.7,96.8 29.2,96.7 36.8,97.3 50.4,96.7 56.9,97.4 62.9,97.8 68.1,98.6 70.5,99.4 71.4,100.1 72,101.1 72,103.1 -2,103.1 -2,97.7 4.5,97.6 10.1,97.3 15.1,97.4 18.8,97.1Z"/></g></g><mask id="c3a" maskUnits="userSpaceOnUse" x="-2" y="-2" width="200" height="200"><rect width="112.3" height="101.1" fill="#fff"/></mask></svg>
<div class="t" style="left:3.9px;top:284.824px;font-size:7.65px">Temperature (K)</div>
<div class="cb" style="left:25px;top:301.4px;width:6.8px;height:96.9px"></div>
<div class="l" style="left:33px;top:298.075px;font-size:6.25px">320.61</div>
<div class="l" style="left:33px;top:317.675px;font-size:6.25px">316.49</div>
<div class="l" style="left:33px;top:336.975px;font-size:6.25px">312.37</div>
<div class="l" style="left:33px;top:356.275px;font-size:6.25px">308.24</div>
<div class="l" style="left:33px;top:375.575px;font-size:6.25px">304.12</div>
<div class="l" style="left:33px;top:394.875px;font-size:6.25px">300.00</div>
<div class="c" style="left:84.8px;top:405.154px">Design 3a</div>
<svg style="left:226.5px;top:295.9px" width="116.4" height="105.9" viewBox="-2 -2 116.4 105.9"><g filter="url(#sb)"><g mask="url(#c3b)"><rect x="-2" y="-2" width="116.4" height="105.9" fill="#00bff5"/>
<path fill="#00e1f0" d="M-2,-2 114.4,-2 114.4,103.9 -2,103.9 -2,-2Z"/>
<path fill="#00eee5" d="M-2,-2 101.1,-2 100.9,1.5 101.3,2.3 102.3,2.7 104.8,2.5 111.4,0.9 114.4,0.8 114.4,103.9 -2,103.9 -2,-2Z"/>
<path fill="#00efcf" d="M7.5,-2 92.4,-2 92.5,0.5 93.3,2.5 94.1,4.1 94.9,5.1 96.1,6.1 98.3,7.1 99.8,7.3 101.8,7.2 104,6.6 110.4,4.4 112.4,4.1 114.4,4.1 114.4,103.9 -2,103.9 -2,17.5 0.5,17.4 2,16.7 2.9,15.7 3.3,14.2 3,12.7 2.5,11.8 1.5,10.7 0,9.9 -2,9.9 -2,4.1 0,4.1 1.5,3.8 5,2 7.5,-0 7.5,-2Z"/>
<path fill="#00f0b9" d="M19.7,5.1 28.2,4.8 37.3,5.3 49.9,4.7 59,5.3 71.6,4.7 78.1,5.2 84.2,5.3 87.2,5.9 96.3,9.2 98.8,9.8 100.8,9.9 102.8,9.8 104.3,9.4 110.9,7 112.4,6.8 114.4,6.8 114.4,103.9 -2,103.9 -2,20.6 0,20.6 2,20.3 3.5,19.8 5,18.9 7.1,16.7 10.1,11.2 12.6,8.6 14.1,6.7 15.1,6 16.1,5.6 19.7,5.1Z"/>
<path fill="#00f1a3" d="M23.6,9.6 29.2,9.6 36.8,10.2 49.9,9.5 58,10.1 64.5,9.9 71.6,9.5 80.1,10 90.7,9.9 93.8,10.3 100.8,12.1 103.8,12.5 106.4,12.1 111.4,10.1 114.4,9.9 114.4,103.9 -2,103.9 -2,22 0.5,21.9 2.5,21.6 4,21.2 5.9,20.3 8.3,18.3 12.6,13 13.6,12.1 15.1,11.2 17.1,10.4 18.6,10 23.6,9.6Z"/>
<path fill="#00f18d" d="M24.7,11.7 29.7,11.7 36.8,12.2 49.9,11.6 58.5,12.2 65,12 71.1,11.5 78.1,12 83.2,12.1 86.2,12.1 90.7,11.7 92.7,11.8 96.6,12.7 101.5,14.7 103.8,16.2 106.9,19 108.4,19.9 110.4,20.4 114.4,20.4 114.4,103.9 -2,103.9 -2,23 0,23 2.5,22.7 4.5,22.2 6.5,21.3 9.3,19.3 14.1,14.5 15.6,13.4 17.1,12.7 20.2,11.9 24.7,11.7Z"/>
<path fill="#00f278" d="M20.5,13.7 28.7,13.4 36.8,14.1 50.4,13.4 58.5,14 65,13.8 71.6,13.3 78.1,13.9 84.2,14 91.2,13.4 93.2,13.5 95.8,14 98.8,15.4 100.8,16.8 104.8,20.3 107.4,21.8 109.9,22.3 114.4,22.3 114.4,103.9 -2,103.9 -2,23.9 0,23.9 2.5,23.6 6,22.6 7.6,21.8 9.9,20.3 14.1,16.7 16.1,15.2 18.1,14.2 20.5,13.7Z"/>
<path fill="#00f164" d="M21.6,15.2 29.2,15.1 36.8,15.7 50.4,15 58.5,15.6 65,15.4 71.6,14.9 78.1,15.5 84.2,15.6 86.7,15.5 91.2,15 93.2,15.1 95.3,15.5 97.3,16.4 99.3,17.8 103.8,21.3 106.9,23 109.4,23.6 114.4,23.6 114.4,103.9 -2,103.9 -2,24.6 2.5,24.4 6,23.5 10.2,21.3 17.1,16.4 19.2,15.6 21.6,15.2Z"/>
<path fill="#00f050" d="M21.3,16.7 29.2,16.6 36.8,17.2 50.4,16.5 58.5,17.1 65,16.9 71.6,16.4 78.1,17 84.7,17.1 92.7,16.5 94.3,16.8 96.3,17.6 104.1,22.8 106.9,24.1 109.4,24.6 114.4,24.6 114.4,103.9 -2,103.9 -2,25.4 2.5,25.1 6,24.3 11.1,21.8 17.6,17.7 19.2,17.1 21.3,16.7Z"/>
<path fill="#00ef3b" d="M20.7,18.3 29.2,18 36.8,18.7 50.4,17.9 58.5,18.6 65,18.4 71.6,17.9 78.1,18.5 84.7,18.6 92.7,18 94.3,18.2 96.3,19.1 103.8,23.7 106.4,24.9 108.9,25.5 114.4,25.5 114.4,103.9 -2,103.9 -2,26 2.5,25.8 6,25 11,22.8 17.6,19.1 19.2,18.5 20.7,18.3Z"/>
<path fill="#00ef27" d="M19.9,19.8 22.7,19.5 29.2,19.4 36.8,20.1 50.4,19.4 58.5,20 65,19.8 71.6,19.3 78.1,19.9 84.7,20 92.7,19.4 94.3,19.6 96.3,20.4 104.1,24.8 106.4,25.9 109.4,26.4 114.4,26.3 114.4,103.9 -2,103.9 -2,26.7 2,26.6 6,25.7 10.7,23.8 17.6,20.4 19.9,19.8Z"/>
<path fill="#02ee14" d="M24.3,20.8 29.7,20.8 36.8,21.4 49.9,20.6 58,21.3 65,21.1 71.1,20.6 78.1,21.2 84.2,21.3 86.7,21.2 91.2,20.7 93.2,20.7 94.8,21 96.3,21.5 104.3,25.8 106.9,26.8 109.4,27.3 114.4,27.2 114.4,103.9 -2,103.9 -2,27.5 1,27.5 5,26.8 9,25.3 18.1,21.4 20.7,20.9 24.3,20.8Z"/>
<path fill="#1df010" d="M70.7,21.8 73.1,21.9 78.1,22.4 84.2,22.5 86.7,22.4 91.7,21.8 93.8,21.9 96.8,22.8 104.3,26.7 106.9,27.7 109.9,28.3 114.4,28.4 114.4,33.8 112.4,33.8 110.9,34.1 108.9,35 107.6,36 107.7,36.5 109,37 114.4,37 114.4,103.9 -2,103.9 -2,28.6 1,28.5 4.5,27.7 17.1,22.9 20.7,22.1 29.2,21.9 36.8,22.6 50.4,21.8 58.5,22.5 65.5,22.3 70.7,21.8Z"/>
<path fill="#38f30c" d="M20.3,23.3 29.2,23.1 36.8,23.8 50.4,23 55.9,23.6 58.5,23.7 65.5,23.4 71.6,22.9 78.1,23.5 84.7,23.7 87.2,23.5 91.2,23 93.2,23 95.8,23.5 98.8,24.8 105.8,28.4 108.1,29.9 108.5,30.4 108.5,30.9 107.9,31.9 106.4,33 101.9,35 101.4,35.5 101.3,36 101.6,36.5 103.3,37.5 106.9,38.8 108.9,39 114.4,38.8 114.4,103.9 -2,103.9 -2,38 4.5,37.7 7.1,37.2 9.1,36.5 9.8,36 9.8,35.5 9.4,35 3.2,31.9 2.7,31.4 2.6,30.9 2.9,30.4 4.9,28.9 9.1,26.9 17.1,24 20.3,23.3Z"/>
<path fill="#53f508" d="M22,24.3 29.7,24.2 36.8,24.9 50.4,24.1 55.9,24.7 58.5,24.9 65.5,24.6 71.6,24.1 78.1,24.7 84.7,24.8 93.2,24.1 96.3,24.7 100.3,26.4 103.6,28.4 104.5,29.4 104.7,29.9 104.6,30.4 104.3,30.9 103.3,31.6 97.3,33.8 94.8,34.4 89.2,35.2 85.2,35.6 77.1,35.4 71.6,34.8 66,35.4 58,35.6 50.4,34.9 36.8,35.8 34.8,35.7 29.7,35 18.1,35.2 15.6,34.7 13.1,33.8 8.6,31.6 7.7,30.9 7.4,30.4 7.3,29.9 7.8,28.9 9.1,27.9 10.1,27.4 17.1,25 19.7,24.5 22,24.3ZM25.8,36 29.7,35.8 34.3,36.5 36.8,36.6 41.3,36.2 50.9,35.7 56,36.5 58,36.6 65.5,36.2 71.6,35.6 78.1,36.4 85.2,36.6 86.7,36.5 90.7,35.8 92.2,35.7 94.8,36.3 106.9,40.6 109.4,40.9 114.4,40.7 114.4,103.9 -2,103.9 -2,39.8 1.5,39.7 5.5,39.3 10.1,38.4 15.1,37.7 20.2,36.1 25.8,36Z"/>
<path fill="#6ef704" d="M48.5,25.3 51.4,25.3 58,26 65.5,25.8 71.1,25.3 78.1,25.9 84.7,26 87.2,25.9 91.7,25.3 93.8,25.3 96.3,25.9 99.8,27.3 101.3,28.4 101.6,28.9 101.6,29.4 101.3,29.9 100.5,30.4 97.8,31.3 95.8,31.6 91.2,31.8 86.2,32.5 78.1,32.4 71.6,31.7 65.5,32.3 57.5,32.5 49.9,31.8 36.8,32.6 29.2,31.9 16.1,32.2 14.1,31.8 12.1,31 11.1,30.4 10.6,29.9 10.4,29.4 10.4,28.9 10.9,28.4 12.8,27.4 16.6,26.3 20.2,25.7 29.2,25.4 36.8,26.1 48.5,25.3ZM71,38 73.1,38.1 77.6,38.7 85.2,38.8 87.2,38.7 91.2,38.1 93.8,38.2 100.8,40.2 107.9,43.3 109.9,43.6 114.4,43.5 114.4,103.9 -2,103.9 -2,42.2 0.5,42.1 3.5,41.8 10.1,40.2 15.1,39.5 19.2,38.6 21.7,38.3 29.7,38.2 36.8,39 50.4,38.1 58,38.9 65.5,38.6 71,38Z"/>
<path fill="#89fa00" d="M22.1,26.9 29.7,26.8 36.8,27.5 49.9,26.7 58,27.4 65.5,27.2 71.6,26.6 78.1,27.3 85.7,27.4 92.7,26.7 94.7,26.9 96.4,27.4 97.4,27.9 97.7,28.4 97.4,28.9 95.8,29.4 91.2,29.6 85.2,30.3 77.6,30.1 71.6,29.5 65.5,30.1 58,30.4 50.4,29.6 36.8,30.4 29.2,29.7 22.2,29.8 17.1,30.1 15.1,29.8 14.4,29.4 14.1,28.9 14.6,28.4 15.9,27.9 18.6,27.3 22.1,26.9ZM21.4,40.1 29.7,39.9 36.8,40.7 50.4,39.8 55.9,40.5 58,40.6 65.5,40.4 71.6,39.7 77.6,40.4 85.2,40.6 92.7,39.8 95.3,40.3 98.9,41.6 101.3,42.8 105.8,45.5 107.9,46.4 109.9,46.7 114.4,46.7 114.4,103.9 -2,103.9 -2,45.3 1,45.2 4,44.7 11.1,42.2 19.2,40.4 21.4,40.1Z"/>
<path fill="#9ffa00" d="M70.5,42.1 72.6,42.1 77.6,42.7 85.2,42.9 87.2,42.8 91.2,42.2 93.2,42.2 95.3,42.7 98.8,44.4 101.8,46.1 105.8,48.8 107.4,49.5 109.9,50.1 114.4,50 114.4,103.9 -2,103.9 -2,48.6 1,48.5 4,48 11.1,45.2 18.6,42.8 21.2,42.4 29.7,42.2 34.8,42.9 36.8,43 50.4,42.1 55.9,42.8 58,42.9 65.5,42.7 70.5,42.1Z"/>
<path fill="#b6fb00" d="M49.1,45.1 51.4,45.1 57.5,45.9 65.5,45.7 71.6,45 77.6,45.7 85.7,45.9 91.2,45.1 92.7,45.1 94.8,45.6 97.3,46.7 100.8,48.8 105.8,52.1 107.4,52.9 109.4,53.2 114.4,53 114.4,103.9 -2,103.9 -2,51.9 1,51.9 4.5,51.2 11.1,48.4 18.6,45.9 20.7,45.4 29.7,45.2 34.8,45.9 36.8,46 49.1,45.1Z"/>
<path fill="#ccfb00" d="M20.6,48.7 29.7,48.4 34.8,49.2 36.8,49.3 41.3,48.8 50.4,48.3 55.9,49.1 58,49.2 66,48.9 71.6,48.2 77.6,49 85.2,49.1 87.2,49 91.2,48.4 92.7,48.4 95.3,49.1 99.8,51.5 102.4,53.2 106.4,56.5 107.4,57 108.9,57 112.4,56.2 114.4,56.2 114.4,103.9 -2,103.9 -2,56.3 0.5,56.2 3,55.7 5,54.8 10.6,52 18.6,49.1 20.6,48.7Z"/>
<path fill="#e2fb00" d="M49.2,51.7 51.4,51.7 57.5,52.5 66,52.2 71.1,51.6 73.1,51.7 77.6,52.3 85.2,52.5 87.2,52.4 91.2,51.7 92.7,51.7 95.3,52.5 98.3,54.2 100.3,55.9 104.3,60.1 105.8,61.1 107.4,61.3 111.9,59.6 114.4,59.5 114.4,103.9 -2,103.9 -2,61.3 1.5,61.1 4.5,60.4 6.6,59.3 12.1,55.3 17.6,52.8 20.2,52.1 22.2,51.9 29.7,51.8 34.8,52.5 36.8,52.6 49.2,51.7Z"/>
<path fill="#f8fc00" d="M26.7,56.3 30.2,56.2 36.3,57 50.4,56.1 57.5,56.9 66,56.6 71.6,56 77.6,56.7 85.7,56.9 92.2,56.1 93.8,56.4 95.3,57.2 103.3,63.6 105.3,64.8 106.4,64.9 107.4,64.8 111.9,62.9 114.4,62.8 114.4,103.9 -2,103.9 -2,65.1 2.3,64.9 5.5,64.1 12.7,60.3 17.6,57.5 19.7,56.6 21.7,56.3 26.7,56.3Z"/>
<path fill="#ffec00" d="M20,61.8 22.2,61.6 29.7,61.5 34.8,62.3 36.8,62.4 41.3,61.9 50.4,61.4 52.4,61.6 55.9,62.2 58,62.3 66,62 71.6,61.3 77.6,62.1 85.7,62.2 92.2,61.4 93.8,61.7 95.3,62.3 103.8,67.5 105.8,68.3 107.9,68.2 110.9,66.9 112.4,66.4 114.4,66.4 114.4,103.9 -2,103.9 -2,68.4 2,68.2 5,67.7 18.1,62.4 20,61.8Z"/>
<path fill="#ffd600" d="M20,65.9 21.7,65.7 29.7,65.6 34.8,66.3 36.8,66.4 41.3,66 50.4,65.5 52.4,65.6 55.9,66.2 58,66.3 66,66.1 71.6,65.4 77.6,66.2 85.7,66.3 92.2,65.5 93.8,65.7 95.3,66.2 101.6,69.5 106.4,73.2 107.9,74.1 109.9,74.6 112.4,74.3 114.4,74.3 114.4,103.9 -2,103.9 -2,72.8 0.5,72.8 3,72.3 4.5,71.7 10.2,68.9 20,65.9Z"/>
<path fill="#ffbf00" d="M70.9,68.9 72.6,69 77.6,69.7 85.2,69.8 87.2,69.7 91.2,69 92.7,69 95.3,69.7 98.2,71.5 102.3,75.6 104.9,79.1 106.3,82.1 108.2,88.2 109.4,90.4 110.4,91.4 111.4,92 112.4,92.2 114.4,92.2 114.4,103.9 -2,103.9 -2,78.3 2,78.1 5,77.3 7.3,76 11.6,72.9 13.6,71.7 17.9,70 20.7,69.3 29.7,69.1 34.8,69.8 36.8,69.9 41.3,69.5 50.4,69 57.5,69.8 66,69.6 70.9,68.9Z"/>
<path fill="#ffa900" d="M70.5,75 72.6,75 77.6,75.7 85.2,75.8 87.2,75.7 91.2,75.1 92.7,75.1 94.3,75.4 96.3,76.5 101.3,80.3 103.3,82.5 104.6,84.7 107.4,91.1 108.4,92.9 109.4,94.2 110.4,95.1 111.4,95.5 112.4,95.7 114.4,95.7 114.4,103.9 -2,103.9 -2,83.1 2,82.9 5,82.2 17.1,76.3 18.6,75.8 20.7,75.4 29.7,75.2 36.8,75.9 41.3,75.5 50.4,75 57.5,75.9 66,75.6 70.5,75Z"/>
<path fill="#ff9200" d="M71.2,81.1 77.6,81.8 85.2,81.9 92.7,81.2 94.8,81.5 96.8,82.4 100.8,84.8 102.8,86.6 104.8,89.9 107.9,95.7 108.9,97.2 109.9,98.3 110.9,99.1 111.9,99.4 114.4,99.5 114.4,103.9 -2,103.9 -2,87.2 2,87 5,86.5 11.1,84.2 17.1,82.2 20.7,81.4 29.7,81.3 36.8,82 50.4,81.2 55.9,81.8 58,81.9 66,81.7 71.2,81.1Z"/>
<path fill="#ff7a00" d="M19.3,86.7 21.7,86.5 29.7,86.4 36.8,87.1 50.4,86.3 58,87 66,86.7 71.6,86.2 77.6,86.8 85.7,86.9 91.7,86.3 94.3,86.4 96.3,87 100.8,89.1 102.3,90.1 103.4,91.3 105.2,94.3 106.8,98.4 107,99.9 106.8,103.9 -2,103.9 -2,90.2 2.5,90.1 5.5,89.8 19.3,86.7Z"/>
<path fill="#ff6000" d="M20.2,90.2 29.7,90 36.8,90.7 50.4,89.9 58,90.6 65.5,90.4 71.6,89.9 77.6,90.6 85.2,91 93.2,90.6 95.3,91 97.3,91.7 99.8,92.8 101.6,93.8 102.3,94.5 103.2,95.8 103.8,97.3 103.9,98.4 103.6,99.4 103.1,99.9 99.7,101.9 99.7,103.9 -2,103.9 -2,92.5 5,92.3 10.6,91.4 20.2,90.2Z"/>
<path fill="#ff4600" d="M20.6,92.8 29.7,92.6 36.3,93.2 49.9,92.5 57.5,93.2 71.6,92.8 90.7,95.6 93.2,96.5 94.2,97.3 94.4,97.8 94.3,98.4 94,98.9 91.7,100.9 91,101.9 91,103.9 -2,103.9 -2,94.4 5,94.2 20.6,92.8Z"/>
<path fill="#ff2c00" d="M20.2,94.8 29.7,94.6 36.8,95.2 50.4,94.5 57,95.2 70.1,95.3 72.1,95.4 81.1,97.6 83.1,98.4 84,98.9 84.5,99.4 84.8,100.4 84.7,103.9 -2,103.9 -2,96 4.5,95.9 10.1,95.4 15.1,95.3 20.2,94.8Z"/>
<path fill="#ff1100" d="M21,96.3 29.7,96.2 36.8,96.8 50.4,96.1 57,96.8 70.6,97.4 72.6,97.7 74.4,98.4 77.1,99.9 77.9,100.9 78.3,101.9 78.3,103.9 -2,103.9 -2,97.2 5,97.1 10.1,96.8 15.6,96.8 21,96.3Z"/>
<path fill="#ff0000" d="M18.8,97.8 21.7,97.6 29.2,97.5 36.8,98.1 50.4,97.4 57,98.2 63,98.6 68.2,99.4 70.6,100.2 71.4,100.9 72.1,101.9 72.1,103.9 -2,103.9 -2,98.5 4.5,98.4 10.1,98.1 15.1,98.2 18.8,97.8Z"/></g></g><mask id="c3b" maskUnits="userSpaceOnUse" x="-2" y="-2" width="200" height="200"><rect width="112.4" height="101.9" fill="#fff"/></mask></svg>
<div class="t" style="left:178.1px;top:284.782px;font-size:7.7px">Temperature (K)</div>
<div class="cb" style="left:199.5px;top:301.4px;width:6.9px;height:97.3px"></div>
<div class="l" style="left:207.7px;top:298.1px;font-size:6.2px">320.61</div>
<div class="l" style="left:207.7px;top:318.1px;font-size:6.2px">316.49</div>
<div class="l" style="left:207.7px;top:337.4px;font-size:6.2px">312.37</div>
<div class="l" style="left:207.7px;top:356.7px;font-size:6.2px">308.24</div>
<div class="l" style="left:207.7px;top:376.5px;font-size:6.2px">304.12</div>
<div class="l" style="left:207.7px;top:395.4px;font-size:6.2px">300.00</div>
<div class="c" style="left:257.5px;top:407.753px">Design 3b</div>
<svg style="left:57.3px;top:429.2px" width="110.7" height="100.5" viewBox="-2 -2 110.7 100.5"><g filter="url(#sb)"><g mask="url(#c4a)"><rect x="-2" y="-2" width="110.7" height="100.5" fill="#00bff5"/>
<path fill="#00e1f0" d="M-2,-2 108.7,-2 108.7,98.5 -2,98.5 -2,-2Z"/>
<path fill="#00eee5" d="M-2,-2 95.2,-2 95.2,0 94.2,2.5 93.8,4.5 94.2,6.5 94.8,7.5 95.6,8.5 97.8,10 101.2,11.3 104.2,11.7 108.7,11.7 108.7,98.5 -2,98.5 -2,-2Z"/>
<path fill="#00efcf" d="M14.2,-2 87.1,-2 87.3,1 87.8,3.5 88.4,5.5 89.8,8 91.5,9.5 95.2,11.6 99.7,13.2 103.2,13.8 108.7,13.8 108.7,98.5 -2,98.5 -2,19.8 0,19.8 1.2,19.5 2.5,18.8 3.5,17.8 4.2,16.5 4.5,15 4.1,11 4.4,10 5.4,8 6.3,6.5 7.8,5 13.2,1 14.2,0 14.2,-2Z"/>
<path fill="#00f0b9" d="M23,5.5 26.5,5.1 36.6,5.4 47.1,5.1 58.1,5.5 68.6,5.1 80.2,5.6 82.2,6.3 85,8.5 87.4,10 93.2,12.8 96.3,14 99.7,15 102.2,15.4 108.7,15.4 108.7,98.5 -2,98.5 -2,23.5 0,23.5 2,23.2 3.9,22.5 5.7,21.5 6.9,20.5 8.3,19 12.3,13.5 13.6,12 19.5,7 21,6.2 23,5.5Z"/>
<path fill="#00f1a3" d="M26.4,10.5 36.6,10.8 47.1,10.5 58.1,10.9 69.6,10.5 81.2,10.9 83.7,11.3 86.2,11.9 94.7,15 99.2,16.3 102.7,16.7 108.7,16.7 108.7,98.5 -2,98.5 -2,25.2 0,25.2 2,25 4,24.4 6,23.5 7.6,22.5 9.4,21 15.5,14.8 18,12.7 19.5,11.8 21.5,11.1 24,10.6 26.4,10.5Z"/>
<path fill="#00f18d" d="M22.8,13.5 26.5,13.1 36.6,13.5 47.1,13.1 58.1,13.5 69.1,13.1 81.7,13.6 84.7,13.9 87.7,14.4 95.7,16.8 100.2,17.8 103.2,18 108.7,18 108.7,98.5 -2,98.5 -2,26.6 0.5,26.5 3,26.1 5,25.5 7,24.6 10.8,22 15.5,17.7 18,15.7 20.5,14.2 22.8,13.5Z"/>
<path fill="#00f278" d="M24.4,15.5 27.6,15.4 33.1,15.7 37.6,15.7 46.6,15.3 58.1,15.8 69.6,15.4 81.7,15.8 88.7,16.5 96.2,18.4 100.7,19.2 103.2,19.4 108.7,19.3 108.7,98.5 -2,98.5 -2,27.7 0,27.7 2.5,27.4 4.5,26.9 6.9,26 11.2,23.5 17,18.6 19,17.2 21.5,16.1 24.4,15.5Z"/>
<path fill="#00f164" d="M23,17.5 26.5,17.1 36.6,17.6 46.6,17.1 58.1,17.6 65.6,17.2 71.1,17.2 86.7,18 90.2,18.5 96.2,20 100.7,20.8 103.2,21.1 108.7,20.9 108.7,98.5 -2,98.5 -2,28.8 0.5,28.8 3,28.4 5,27.9 7.4,27 11.9,24.5 19,19 21,18.1 23,17.5Z"/>
<path fill="#00f050" d="M24.2,19 27.6,18.8 33.1,19.2 37.6,19.2 46.6,18.8 58.1,19.3 65.1,18.9 71.1,18.8 76.6,19.2 82.7,19.4 88.2,19.8 97.2,21.9 101.7,22.6 108.7,22.6 108.7,98.5 -2,98.5 -2,29.9 0,29.9 2.5,29.6 5,29 7,28.3 9.8,27 12.4,25.5 19.5,20.4 21.5,19.6 24.2,19Z"/>
<path fill="#00ef3b" d="M25.3,20.5 27.6,20.4 33.1,20.8 37.1,20.9 46.6,20.4 58.1,20.9 65.1,20.5 71.1,20.5 76.6,20.9 82.7,21 88.2,21.4 90.7,21.9 97.2,23.5 101.7,24.3 108.7,24.3 108.7,98.5 -2,98.5 -2,30.9 0,30.9 2.5,30.6 6.5,29.6 12.5,26.7 18,22.9 20,21.7 22.5,20.9 25.3,20.5Z"/>
<path fill="#00ef27" d="M26.4,22 37.1,22.4 46.6,22 58.1,22.5 65.1,22.1 71.1,22 76.6,22.4 82.7,22.6 88.2,23 90.7,23.5 97.7,25.3 101.7,26 108.7,26 108.7,98.5 -2,98.5 -2,32 2.5,31.7 6.5,30.7 12.5,27.9 18,24.3 20,23.3 22.5,22.5 26.4,22Z"/>
<path fill="#02ee14" d="M45.9,23.5 58.1,24.1 64.6,23.6 70.1,23.5 76.6,24 82.7,24.2 89.7,24.9 96.2,26.7 101.2,27.8 103.7,28 108.7,27.8 108.7,98.5 -2,98.5 -2,33.1 0,33.1 3,32.7 7,31.7 12.5,29.2 19,25.2 20.5,24.6 22.5,24 26.5,23.6 37.1,24 45.9,23.5Z"/>
<path fill="#1df010" d="M23.5,25.5 27.6,25.1 33.1,25.5 38.6,25.6 46.1,25.1 58.1,25.7 64.1,25.3 69.6,25.1 76.6,25.6 81.7,25.7 87.2,26.2 89.7,26.6 99.7,29.6 102.2,30.2 104.2,30.4 108.7,30.3 108.7,98.5 -2,98.5 -2,34.2 0,34.2 3,33.9 7,32.9 12,30.8 19,26.7 21,26 23.5,25.5Z"/>
<path fill="#38f30c" d="M24.9,27 27.6,26.8 33.1,27.2 38.1,27.3 46.6,26.8 58.1,27.4 64.1,26.9 70.1,26.8 76.1,27.3 82.2,27.5 87.2,28 89.7,28.6 92.2,29.5 98.7,32.4 101.7,33.4 104.2,33.8 108.7,33.7 108.7,98.5 -2,98.5 -2,35.6 2.5,35.3 6.5,34.4 12.5,32.1 17.5,29.1 19,28.4 21,27.7 24.9,27Z"/>
<path fill="#53f508" d="M24.7,29 27.6,28.7 33.1,29.1 38.6,29.2 46.1,28.6 58.1,29.3 64.1,28.8 70.1,28.7 81.7,29.4 86.7,30.4 89.7,31.3 100.2,37 102.2,37.9 104.2,38.3 108.7,38.3 108.7,98.5 -2,98.5 -2,37.4 2,37.2 6,36.4 13,33.8 19.3,30.5 24.7,29Z"/>
<path fill="#6ef704" d="M26.6,31.5 28.6,31.5 33.6,31.9 38.6,31.9 46.6,31.3 58.1,32 64.1,31.5 70.1,31.4 80.7,32.2 85.7,33.3 89.1,34.5 91.2,35.8 96.2,39.6 98.7,41.1 101.2,42.3 103.7,42.9 108.7,42.8 108.7,98.5 -2,98.5 -2,41 2,40.8 6,39.9 12.5,37.2 19.8,33.5 24,32 26.6,31.5Z"/>
<path fill="#89fa00" d="M25.9,35 28.1,34.7 33.1,35.2 39.1,35.2 46.1,34.6 58.1,35.3 64.1,34.8 70.1,34.6 80,35.5 83.2,36.3 87.7,38.3 90.2,39.8 95.7,43.6 101.2,46.4 103.2,46.8 106.7,46.4 108.7,46.4 108.7,98.5 -2,98.5 -2,45.2 0.5,45.1 4.5,44.5 12,42.1 14.5,40.9 21,37 24,35.6 25.9,35Z"/>
<path fill="#9ffa00" d="M26,39.5 28.6,39.2 33.1,39.6 39.1,39.6 46.1,39 58.1,39.8 64.1,39.2 70.6,39.1 79.1,39.9 82.2,40.6 88.2,42.9 90.2,44 95.7,47.6 100.7,50 102.2,50.2 106.7,49.2 108.7,49.2 108.7,98.5 -2,98.5 -2,49.1 0.5,49 4.5,48.5 12,46.2 14.5,45.1 20.5,41.8 26,39.5Z"/>
<path fill="#b6fb00" d="M26.6,43.5 28.6,43.4 32.6,43.8 39.1,43.8 46.1,43.1 58.1,44 64.1,43.4 72.1,43.3 80.7,44.3 87.2,46.5 90.2,47.9 96.7,52.2 99.7,53.6 101.7,53.5 106.2,51.9 108.7,51.8 108.7,98.5 -2,98.5 -2,53.2 2.5,53 6,52.2 13.5,49.5 20.5,45.8 24.5,44.1 26.6,43.5Z"/>
<path fill="#ccfb00" d="M26.3,47.5 28.6,47.3 32.6,47.7 39.6,47.8 46.1,47.1 58.1,47.9 63.6,47.3 71.6,47.2 80.7,48.3 87.2,50.4 90.2,52 95.7,56 97.2,56.8 98.7,57.3 99.7,57.4 101.2,57 104.7,55.3 106.2,54.7 108.7,54.6 108.7,98.5 -2,98.5 -2,57.6 0,57.6 3,57.3 6.5,56.4 13,54 19.5,50.2 24,48.2 26.3,47.5Z"/>
<path fill="#e2fb00" d="M26.4,51.5 28.6,51.3 32.6,51.8 39.6,51.8 46.1,51.1 58.1,52 63.6,51.3 70.6,51.1 79.6,52.1 82.2,52.8 88.2,55.3 90.2,56.5 95.7,60.5 97.2,61.3 98.2,61.5 99.2,61.4 100.7,60.8 105.7,57.8 106.7,57.5 108.7,57.5 108.7,98.5 -2,98.5 -2,62.2 2.5,61.9 6,61.1 13.5,58.2 20,54.3 24.5,52.1 26.4,51.5Z"/>
<path fill="#f8fc00" d="M26.7,56 28.6,55.9 32.6,56.4 39.6,56.4 46.1,55.6 58.1,56.6 63.6,55.9 70.6,55.7 76.1,56.5 79.6,56.7 82.2,57.3 88.2,59.9 90.2,61.2 94.7,64.8 96.2,65.6 97.7,66 99.2,65.8 100.7,65.1 104.2,62.3 105.7,61.4 106.7,61 108.7,61 108.7,98.5 -2,98.5 -2,66.7 1,66.6 5,66.1 12,63.7 14.5,62.5 20,58.8 24.5,56.7 26.7,56Z"/>
<path fill="#ffec00" d="M45.3,60.5 53.6,61 58.1,61.4 63.6,60.8 71.1,60.6 75.6,61.3 80.2,61.7 82.2,62.3 88.7,65.3 95.2,69.4 97.2,70.2 98.7,70.4 100.2,70.3 101.7,69.7 104.9,67 106.2,66.2 106.7,66.1 108.7,66.1 108.7,98.5 -2,98.5 -2,70.7 0.5,70.7 5,70.2 13,67.9 15,67 20.5,63.7 24.5,61.6 26.5,60.9 28.6,60.7 32.6,61.2 39.6,61.2 45.3,60.5Z"/>
<path fill="#ffd600" d="M44,66 46.6,65.9 53.6,66.3 58.1,66.8 63.6,66.1 71.6,66 75.6,66.6 79.6,66.8 81.2,67.1 89.2,69.9 94.2,73 97.9,75 100,76.5 101.6,78.5 103.2,82.2 104.2,83.5 105.7,84.2 108.7,84.2 108.7,98.5 -2,98.5 -2,74.6 0.5,74.6 5,74.2 13,72.1 15,71.3 20,68.6 25,66.6 26.5,66.1 28.6,66.1 32.6,66.6 39.6,66.6 44,66Z"/>
<path fill="#ffbf00" d="M25.5,71 28.1,70.7 32.6,71.3 39.6,71.3 46.1,70.6 53.6,71 58.1,71.5 63.6,70.8 71.1,70.7 76.1,71.4 81.2,71.6 87.7,73.6 90.2,74.7 97.2,78.8 98.7,80.4 102.2,85.8 103.7,87.3 104.7,87.8 105.7,88 108.7,88.1 108.7,98.5 -2,98.5 -2,78.2 5,77.9 13,76.2 15,75.5 19.5,73.2 25.5,71Z"/>
<path fill="#ffa900" d="M25.5,75.5 27.6,75.3 32.6,75.9 39.6,75.9 46.1,75.2 53.6,75.6 58.1,76.1 63.6,75.5 71.1,75.3 76.1,76 81.2,76.1 88.2,77.8 90.7,78.7 95.2,81 96.7,82 98.7,84.1 101.9,88.5 103.7,90.2 105.7,90.8 108.7,90.9 108.7,98.5 -2,98.5 -2,81.5 5,81.3 13,79.8 15,79.2 19.5,77.3 25.5,75.5Z"/>
<path fill="#ff9200" d="M25.7,79.5 28.1,79.4 32.6,80 39.6,80 46.1,79.3 58.1,80.2 63.6,79.6 71.1,79.4 76.1,80.1 81.2,80.1 88.7,81.5 94.7,83.7 96.7,84.9 98.2,86.4 101.7,91.3 103.7,93.1 105.7,93.8 108.7,93.9 108.7,98.5 -2,98.5 -2,84.3 5,84.1 13.5,83 19.5,81 25.7,79.5Z"/>
<path fill="#ff7a00" d="M25.4,83 27.6,82.9 32.6,83.5 39.6,83.5 46.1,82.9 58.1,83.6 63.6,83.1 71.1,82.9 76.1,83.6 81.7,83.5 88.7,84.5 90.7,85 95.2,86.8 96.2,87.4 97.2,88.3 99.1,91 100.7,94 101.5,96.5 101.5,98.5 -2,98.5 -2,86.7 5,86.5 13.5,85.7 19.5,84.1 25.4,83Z"/>
<path fill="#ff6000" d="M24.2,86 27.1,85.7 32.6,86.3 39.6,86.3 46.1,85.7 58.1,86.5 63.6,86 70.6,85.9 76.6,86.7 81.7,86.8 89.2,87.9 94.2,89.9 95.7,90.8 96.7,91.9 97.2,93 97.3,94 97,95 96,96.5 96,98.5 -2,98.5 -2,88.7 4.5,88.6 9,88.2 13.5,88 19,86.8 24.2,86Z"/>
<path fill="#ff4600" d="M22.5,88.5 27.1,88.1 32.6,88.6 39.6,88.6 45.6,88.1 53.6,88.4 58.1,88.9 63.6,88.5 70.6,88.8 76.1,89.9 80.7,90.3 83.2,90.9 86.7,92 87.5,92.5 87.9,93 88,93.5 87.8,94.5 86.9,96.5 86.9,98.5 -2,98.5 -2,90.5 4.5,90.3 9.5,89.9 13.5,89.9 19,88.9 22.5,88.5Z"/>
<path fill="#ff2c00" d="M25.5,90 27.6,90 32.6,90.5 39.1,90.5 46.1,89.9 53.6,90.4 58.1,90.9 64.1,90.8 70.6,91.4 74.5,92.5 77.2,93.5 78.6,94.3 79.3,95 79.8,96 79.9,98.5 3.4,98.5 3.4,96.5 3,95.7 2,94.5 0.6,93.5 0.7,93 2,92.5 7,91.5 9.5,91.3 14,91.4 19,90.6 25.5,90Z"/>
<path fill="#ff1100" d="M24.7,91.5 27.1,91.4 32.6,91.9 39.1,91.9 46.1,91.4 53.6,91.9 58.1,92.6 64.6,92.8 69.1,93.8 71.6,94.9 72.3,95.5 73.1,96.5 73.1,98.5 5.3,98.5 5.3,94.5 6,93.5 7,93 9.5,92.6 14.5,92.6 19,92 24.7,91.5Z"/>
<path fill="#ff0000" d="M21.9,93 27.1,92.7 32.6,93.2 39.6,93.2 45.6,92.7 53.6,93.4 58.1,94.2 62.6,94.8 64.6,95.4 66.4,96.5 66.4,98.5 6.9,98.5 6.9,96.5 7.2,95.5 7.5,95 8.5,94.2 10,93.9 14.5,93.8 19,93.2 21.9,93Z"/></g></g><mask id="c4a" maskUnits="userSpaceOnUse" x="-2" y="-2" width="200" height="200"><rect width="106.7" height="96.5" fill="#fff"/></mask></svg>
<div class="t" style="left:13.2px;top:422.901px;font-size:6.85px">Temperature (K)</div>
<div class="cb" style="left:32.3px;top:437.3px;width:6.5px;height:86.9px"></div>
<div class="l" style="left:39.9px;top:434.4px;font-size:5.4px">318.71</div>
<div class="l" style="left:39.9px;top:451.9px;font-size:5.4px">314.97</div>
<div class="l" style="left:39.9px;top:469.3px;font-size:5.4px">311.22</div>
<div class="l" style="left:39.9px;top:486.8px;font-size:5.4px">307.48</div>
<div class="l" style="left:39.9px;top:504.2px;font-size:5.4px">303.74</div>
<div class="l" style="left:39.9px;top:521px;font-size:5.4px">300.00</div>
<div class="c" style="left:84.8px;top:534.854px">Design 4a</div>
<svg style="left:225.7px;top:428.8px" width="117.2" height="101.1" viewBox="-2 -2 117.2 101.1"><g filter="url(#sb)"><g mask="url(#c4b)"><rect x="-2" y="-2" width="117.2" height="101.1" fill="#00bff5"/>
<path fill="#00e1f0" d="M-2.1,-2 115.3,-2 115.3,99.1 -2.1,99.1 -2.1,-2Z"/>
<path fill="#00eee5" d="M-2.1,-2 101,-2 101,0 99.9,2.6 99.6,4.5 100,6.5 100.6,7.5 101.4,8.6 103.7,10.1 107.4,11.3 110.5,11.7 115.3,11.7 115.3,99.1 -2.1,99.1 -2.1,-2Z"/>
<path fill="#00efcf" d="M15,-2 92.5,-2 92.6,1 93.1,3.5 93.8,5.5 95.3,8 97,9.6 101,11.7 105.8,13.3 109.5,13.9 115.3,13.9 115.3,99.1 -2.1,99.1 -2.1,19.9 0,19.9 1.2,19.6 2.7,18.9 3.7,17.9 4.4,16.6 4.7,15.1 4.4,11.1 4.7,10.1 5.7,8 6.7,6.5 8.3,5 14,1 15,0 15,-2Z"/>
<path fill="#00f0b9" d="M24.4,5.5 28.2,5.2 38.8,5.5 50,5.2 61.6,5.5 72.8,5.2 85,5.6 87.2,6.3 90.1,8.6 92.7,10.1 98.9,12.8 102.2,14.1 105.8,15 108.4,15.5 115.3,15.5 115.3,99.1 -2.1,99.1 -2.1,23.6 0,23.6 2.1,23.3 4.2,22.6 6,21.6 7.3,20.6 8.8,19.1 13,13.6 14.5,12.1 20.7,7.1 22.3,6.2 24.4,5.5Z"/>
<path fill="#00f1a3" d="M28,10.6 38.8,10.9 50,10.6 61.6,10.9 73.9,10.6 86.1,11 88.8,11.3 91.4,12 100.4,15.1 105.2,16.4 108.9,16.9 115.3,16.8 115.3,99.1 -2.1,99.1 -2.1,25.4 0,25.4 2.1,25.1 4.3,24.6 6.4,23.7 8.1,22.6 10,21.1 16.5,14.9 19.1,12.8 20.7,11.9 22.9,11.2 25.5,10.7 28,10.6Z"/>
<path fill="#00f18d" d="M24.2,13.6 28.2,13.2 38.8,13.6 50,13.2 61.6,13.6 73.3,13.2 86.6,13.6 89.8,14 93,14.5 101.5,16.9 106.3,17.9 109.5,18.2 115.3,18.1 115.3,99.1 -2.1,99.1 -2.1,26.7 0.5,26.7 3.2,26.3 5.3,25.7 7.4,24.8 11.5,22.1 16.5,17.8 19.1,15.8 21.8,14.3 24.2,13.6Z"/>
<path fill="#00f278" d="M25.9,15.6 29.2,15.5 35.1,15.8 39.9,15.8 49.4,15.4 61.6,15.9 73.9,15.5 86.6,15.9 94.1,16.6 102,18.5 106.8,19.4 109.5,19.6 115.3,19.5 115.3,99.1 -2.1,99.1 -2.1,27.9 0,27.9 2.7,27.6 4.8,27.1 7.4,26.2 11.8,23.6 18.1,18.7 20.2,17.3 22.9,16.2 25.9,15.6Z"/>
<path fill="#00f164" d="M24.4,17.6 28.2,17.3 38.8,17.7 49.4,17.2 61.6,17.7 69.6,17.3 75.5,17.3 91.9,18.1 95.7,18.6 102,20.1 106.8,21 109.5,21.2 115.3,21.1 115.3,99.1 -2.1,99.1 -2.1,29 0.5,29 3.2,28.6 5.3,28.1 7.8,27.2 12.6,24.7 20.2,19.2 22.3,18.2 24.4,17.6Z"/>
<path fill="#00f050" d="M25.6,19.1 29.2,18.9 35.1,19.3 39.9,19.3 49.4,18.9 61.6,19.4 69.1,19 75.5,19 81.3,19.3 87.7,19.5 93.5,19.9 96.2,20.4 103.1,22 107.9,22.8 115.3,22.7 115.3,99.1 -2.1,99.1 -2.1,30.1 0,30.1 2.7,29.8 5.3,29.2 7.4,28.5 10.4,27.2 13.2,25.7 18.6,21.9 20.7,20.6 22.9,19.7 25.6,19.1Z"/>
<path fill="#00ef3b" d="M26.9,20.6 29.2,20.6 35.1,20.9 39.3,21 49.4,20.5 61.6,21 69.1,20.6 75.5,20.6 81.3,21 87.7,21.1 93.5,21.6 96.2,22 103.1,23.7 107.9,24.5 115.3,24.4 115.3,99.1 -2.1,99.1 -2.1,31.1 0,31.1 2.7,30.8 6.9,29.8 13.3,26.9 19.1,23 21.3,21.9 23.9,21 26.9,20.6Z"/>
<path fill="#00ef27" d="M28,22.1 39.3,22.6 49.4,22.1 61.6,22.6 69.1,22.2 75.5,22.2 81.3,22.6 87.7,22.7 93.5,23.2 96.2,23.6 103.6,25.5 107.9,26.2 115.3,26.1 115.3,99.1 -2.1,99.1 -2.1,32.2 2.7,31.9 6.9,30.9 13.3,28.1 19.1,24.5 21.3,23.4 23.9,22.6 28,22.1Z"/>
<path fill="#02ee14" d="M48.7,23.6 61.6,24.2 68.6,23.8 74.4,23.7 81.3,24.2 87.7,24.3 95.1,25.1 102,26.9 107.4,28 110,28.2 115.3,28 115.3,99.1 -2.1,99.1 -2.1,33.3 0,33.3 3.2,32.9 7.4,31.9 13.3,29.4 20.2,25.4 21.8,24.7 23.9,24.2 28.2,23.7 39.3,24.1 48.7,23.6Z"/>
<path fill="#1df010" d="M25,25.7 29.2,25.3 35.1,25.7 40.9,25.7 48.9,25.2 61.6,25.8 68,25.4 73.9,25.3 81.3,25.8 86.6,25.9 92.5,26.4 95.1,26.8 105.8,29.8 108.4,30.4 110.5,30.6 115.3,30.5 115.3,99.1 -2.1,99.1 -2.1,34.4 0,34.4 3.2,34.1 7.4,33.1 12.8,31 20.2,26.9 22.3,26.2 25,25.7Z"/>
<path fill="#38f30c" d="M26.4,27.2 29.2,27 35.1,27.4 40.4,27.4 49.4,26.9 61.6,27.5 68,27.1 74.4,27 80.8,27.4 87.2,27.7 92.5,28.2 95.1,28.7 97.8,29.7 104.7,32.6 107.9,33.6 110.5,34 115.3,33.9 115.3,99.1 -2.1,99.1 -2.1,35.8 2.7,35.5 6.9,34.6 13.3,32.3 18.6,29.3 20.2,28.5 22.3,27.9 26.4,27.2Z"/>
<path fill="#53f508" d="M26.2,29.2 29.2,28.9 35.1,29.3 40.9,29.4 48.9,28.8 61.6,29.5 68,29 74.4,28.9 86.6,29.6 91.9,30.6 95.1,31.5 106.3,37.2 108.4,38.1 110.5,38.5 115.3,38.5 115.3,99.1 -2.1,99.1 -2.1,37.6 2.1,37.4 6.4,36.6 13.8,34 20.5,30.7 26.2,29.2Z"/>
<path fill="#6ef704" d="M28.3,31.7 30.3,31.6 35.6,32.1 40.9,32.1 49.4,31.5 61.6,32.2 68,31.7 74.4,31.6 85.6,32.4 90.9,33.5 94.5,34.7 96.7,36 102,39.8 104.7,41.3 107.4,42.5 110,43.2 115.3,43.1 115.3,99.1 -2.1,99.1 -2.1,41.2 2.1,41 6.4,40.1 13.3,37.4 21,33.7 25.5,32.2 28.3,31.7Z"/>
<path fill="#89fa00" d="M27.5,35.2 29.8,35 35.1,35.4 41.5,35.4 48.9,34.8 61.6,35.5 68,35 74.4,34.9 84.9,35.7 88.2,36.6 93,38.6 95.7,40.1 101.5,43.9 107.4,46.7 109.5,47.1 113.2,46.7 115.3,46.7 115.3,99.1 -2.1,99.1 -2.1,45.4 0.5,45.4 4.8,44.8 12.8,42.3 15.4,41.2 22.3,37.2 25.5,35.8 27.5,35.2Z"/>
<path fill="#9ffa00" d="M27.6,39.7 30.3,39.4 35.1,39.9 41.5,39.9 48.9,39.2 61.6,40 68,39.5 74.9,39.3 84,40.2 87.2,40.9 93.5,43.2 95.7,44.2 101.5,47.9 106.8,50.3 108.4,50.5 113.2,49.5 115.3,49.5 115.3,99.1 -2.1,99.1 -2.1,49.4 0.5,49.3 4.8,48.8 12.8,46.4 15.4,45.4 21.8,42 27.6,39.7Z"/>
<path fill="#b6fb00" d="M28.2,43.8 30.3,43.6 34.5,44 41.5,44.1 48.9,43.4 61.6,44.2 68,43.6 76.5,43.6 85.6,44.6 92.5,46.8 95.7,48.2 102.6,52.5 104.7,53.6 105.8,53.9 107.9,53.8 112.7,52.2 115.3,52.1 115.3,99.1 -2.1,99.1 -2.1,53.6 2.7,53.3 6.4,52.5 14.3,49.9 21.8,46.1 26,44.4 28.2,43.8Z"/>
<path fill="#ccfb00" d="M27.9,47.8 30.3,47.6 34.5,48 42,48.1 48.9,47.4 61.6,48.2 67.5,47.6 76,47.5 80.2,48.1 85.6,48.6 92.5,50.7 95.7,52.3 101.5,56.4 103.1,57.2 104.7,57.7 105.8,57.7 107.4,57.4 111.1,55.6 112.7,55 115.3,54.9 115.3,99.1 -2.1,99.1 -2.1,57.9 0,57.9 3.2,57.6 6.9,56.8 13.8,54.3 20.7,50.5 25.5,48.5 27.9,47.8Z"/>
<path fill="#e2fb00" d="M28,51.8 30.3,51.6 34.5,52.1 42,52.1 48.9,51.4 61.6,52.3 67.5,51.7 74.9,51.5 84.5,52.4 87.2,53.1 93.5,55.6 95.7,56.8 101.5,60.9 103.1,61.6 104.2,61.8 105.2,61.7 106.8,61.2 112.1,58.2 113.2,57.9 115.3,57.9 115.3,99.1 -2.1,99.1 -2.1,62.5 2.7,62.3 6.4,61.5 14.3,58.6 21.3,54.6 26,52.5 28,51.8Z"/>
<path fill="#f8fc00" d="M28.3,56.3 30.3,56.2 34.5,56.7 42,56.7 48.9,56 61.6,56.9 67.5,56.3 74.9,56.1 80.8,56.8 84.5,57.1 87.2,57.7 93.5,60.3 95.7,61.6 100.4,65.2 102,66 103.6,66.4 105.2,66.2 106.8,65.5 110.5,62.7 112.1,61.8 113.2,61.4 115.3,61.4 115.3,99.1 -2.1,99.1 -2.1,67.1 1.1,67 5.3,66.5 12.8,64.1 15.4,62.8 21.3,59.2 26,57.1 28.3,56.3Z"/>
<path fill="#ffec00" d="M48,60.9 56.9,61.3 61.6,61.8 67.5,61.1 75.5,61 80.2,61.6 85,62 87.2,62.7 94.1,65.7 101,69.9 103.1,70.6 104.7,70.9 106.3,70.8 107.9,70.1 111.3,67.4 112.7,66.6 113.2,66.5 115.3,66.5 115.3,99.1 -2.1,99.1 -2.1,71.2 0.5,71.1 5.3,70.7 13.8,68.4 15.9,67.4 21.8,64.1 26,62 28.2,61.3 30.3,61.1 34.5,61.6 42,61.6 48,60.9Z"/>
<path fill="#ffd600" d="M46.7,66.4 49.4,66.3 56.9,66.7 61.6,67.2 67.5,66.6 76,66.4 80.2,67.1 84.5,67.2 86.1,67.5 94.6,70.3 99.9,73.5 103.9,75.5 106.1,77 107.8,79 109.5,82.8 110.5,84 112.1,84.7 115.3,84.7 115.3,99.1 -2.1,99.1 -2.1,75.1 0.5,75.1 5.3,74.7 13.8,72.6 15.9,71.7 21.3,69 26.6,67 28.2,66.6 30.3,66.5 34.5,67 42,67 46.7,66.4Z"/>
<path fill="#ffbf00" d="M27.1,71.4 29.8,71.1 34.5,71.7 42,71.7 48.9,71 56.9,71.5 61.6,71.9 67.5,71.3 75.5,71.1 80.8,71.8 86.1,72.1 93,74.1 95.7,75.1 103.1,79.3 104.7,80.9 108.4,86.3 110,87.8 111.1,88.3 112.1,88.6 115.3,88.6 115.3,99.1 -2.1,99.1 -2.1,78.7 5.3,78.4 13.8,76.7 15.9,75.9 20.7,73.6 27.1,71.4Z"/>
<path fill="#ffa900" d="M27.1,76 29.2,75.7 34.5,76.4 42,76.4 48.9,75.7 56.9,76.1 61.6,76.5 67.5,75.9 75.5,75.8 80.8,76.4 86.1,76.6 93.5,78.2 96.2,79.2 101,81.6 102.6,82.5 104.7,84.6 108.1,89.1 110,90.7 112.1,91.4 115.3,91.5 115.3,99.1 -2.1,99.1 -2.1,82 5.3,81.8 13.8,80.3 15.9,79.7 20.7,77.8 27.1,76Z"/>
<path fill="#ff9200" d="M27.2,80 29.8,79.9 34.5,80.5 42,80.5 48.9,79.8 61.6,80.7 67.5,80.1 75.5,79.9 80.8,80.6 86.1,80.6 94.1,82 100.4,84.3 102.6,85.4 104.2,87 107.9,91.8 110,93.6 112.1,94.4 115.3,94.4 115.3,99.1 -2.1,99.1 -2.1,84.8 5.3,84.6 14.3,83.5 20.7,81.5 27.2,80Z"/>
<path fill="#ff7a00" d="M26.9,83.5 29.2,83.4 34.5,84 42,84 48.9,83.4 61.6,84.2 67.5,83.6 75.5,83.5 80.8,84.1 86.6,84.1 94.1,85 96.2,85.5 101,87.3 102,87.9 103.1,88.8 105.2,91.6 106.9,94.6 107.7,97.1 107.7,99.1 -2.1,99.1 -2.1,87.2 5.3,87 14.3,86.2 20.7,84.6 26.9,83.5Z"/>
<path fill="#ff6000" d="M25.7,86.5 28.7,86.3 34.5,86.8 42,86.9 48.9,86.3 61.6,87 67.5,86.5 74.9,86.5 81.3,87.2 86.6,87.3 94.6,88.4 99.9,90.5 101.5,91.4 102.6,92.5 103.1,93.6 103.2,94.6 102.9,95.6 101.9,97.1 101.9,99.1 -2.1,99.1 -2.1,89.2 4.8,89.1 9.6,88.7 14.3,88.6 20.2,87.3 25.7,86.5Z"/>
<path fill="#ff4600" d="M23.8,89.1 28.7,88.6 34.5,89.2 42,89.2 48.4,88.6 56.9,89 61.6,89.4 67.5,89.1 74.9,89.4 80.8,90.4 85.6,90.9 88.2,91.4 91.9,92.6 92.8,93.1 93.3,93.6 93.4,94.1 93.2,95.1 92.2,97.1 92.2,99.1 -2.1,99.1 -2.1,91 4.8,90.9 10.1,90.5 14.3,90.5 20.2,89.5 23.8,89.1Z"/>
<path fill="#ff2c00" d="M27,90.6 29.2,90.5 34.5,91 41.5,91.1 48.9,90.5 56.9,90.9 61.6,91.5 68,91.4 74.9,92 79.1,93.1 81.9,94.1 83.4,94.9 84.2,95.6 84.6,96.6 84.8,99.1 3.6,99.1 3.6,97.1 3.2,96.3 2.1,95.1 0.6,94.1 0.7,93.6 2.1,93.1 7.4,92.1 10.1,91.9 14.9,92 20.2,91.2 27,90.6Z"/>
<path fill="#ff1100" d="M26.2,92.1 28.7,92 34.5,92.5 41.5,92.5 48.9,92 56.9,92.5 61.6,93.1 68.6,93.4 73.3,94.4 76,95.5 76.7,96.1 77.5,97.1 77.5,99.1 5.6,99.1 5.6,95.1 6.4,94.1 7.4,93.6 10.1,93.2 15.4,93.2 20.2,92.5 26.2,92.1Z"/>
<path fill="#ff0000" d="M23.2,93.6 28.7,93.2 34.5,93.7 42,93.8 48.4,93.3 56.9,94 61.6,94.8 66.4,95.4 68.6,96 70.4,97.1 70.4,99.1 7.4,99.1 7.4,97.1 7.6,96.1 8,95.6 9,94.8 10.6,94.5 15.4,94.4 20.2,93.8 23.2,93.6Z"/></g></g><mask id="c4b" maskUnits="userSpaceOnUse" x="-2" y="-2" width="200" height="200"><rect width="113.2" height="97.1" fill="#fff"/></mask></svg>
<div class="t" style="left:179.6px;top:421.205px;font-size:7.2px">Temperature (K)</div>
<div class="cb" style="left:200.4px;top:436px;width:6.5px;height:88.2px"></div>
<div class="l" style="left:208.2px;top:432.65px;font-size:5.9px">318.82</div>
<div class="l" style="left:208.2px;top:450.55px;font-size:5.9px">315.05</div>
<div class="l" style="left:208.2px;top:468.45px;font-size:5.9px">311.29</div>
<div class="l" style="left:208.2px;top:485.85px;font-size:5.9px">307.53</div>
<div class="l" style="left:208.2px;top:503.35px;font-size:5.9px">303.76</div>
<div class="l" style="left:208.2px;top:520.35px;font-size:5.9px">300.00</div>
<div class="c" style="left:254.8px;top:536.254px">Design 4b</div>
</body></html>
